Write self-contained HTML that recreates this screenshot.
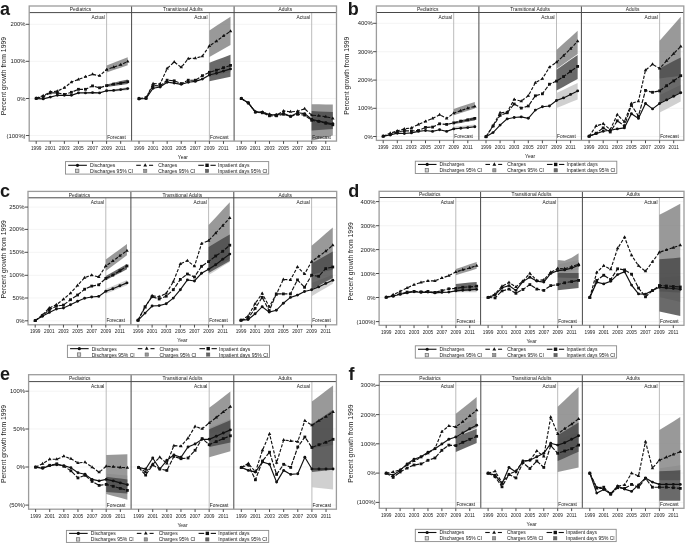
<!DOCTYPE html>
<html><head><meta charset="utf-8"><style>
html,body{margin:0;padding:0;background:#fff;width:685px;height:543px;overflow:hidden}
svg{display:block}
text{font-family:"Liberation Sans", Arial, sans-serif;fill:#1a1a1a}
</style></head><body>
<svg width="685" height="543" viewBox="0 0 685 543">
<rect width="685" height="543" fill="#fff"/>
<line x1="29.20" y1="24.30" x2="131.60" y2="24.30" stroke="#ececec" stroke-width="0.6"/>
<line x1="29.20" y1="61.30" x2="131.60" y2="61.30" stroke="#ececec" stroke-width="0.6"/>
<line x1="29.20" y1="98.50" x2="131.60" y2="98.50" stroke="#ececec" stroke-width="0.6"/>
<line x1="29.20" y1="135.50" x2="131.60" y2="135.50" stroke="#ececec" stroke-width="0.6"/>
<line x1="131.60" y1="24.30" x2="234.10" y2="24.30" stroke="#ececec" stroke-width="0.6"/>
<line x1="131.60" y1="61.30" x2="234.10" y2="61.30" stroke="#ececec" stroke-width="0.6"/>
<line x1="131.60" y1="98.50" x2="234.10" y2="98.50" stroke="#ececec" stroke-width="0.6"/>
<line x1="131.60" y1="135.50" x2="234.10" y2="135.50" stroke="#ececec" stroke-width="0.6"/>
<line x1="234.10" y1="24.30" x2="336.50" y2="24.30" stroke="#ececec" stroke-width="0.6"/>
<line x1="234.10" y1="61.30" x2="336.50" y2="61.30" stroke="#ececec" stroke-width="0.6"/>
<line x1="234.10" y1="98.50" x2="336.50" y2="98.50" stroke="#ececec" stroke-width="0.6"/>
<line x1="234.10" y1="135.50" x2="336.50" y2="135.50" stroke="#ececec" stroke-width="0.6"/>
<line x1="106.60" y1="12.60" x2="106.60" y2="141.10" stroke="#b4b4b4" stroke-width="0.9"/>
<line x1="209.40" y1="12.60" x2="209.40" y2="141.10" stroke="#b4b4b4" stroke-width="0.9"/>
<line x1="311.70" y1="12.60" x2="311.70" y2="141.10" stroke="#b4b4b4" stroke-width="0.9"/>
<polygon points="106.60,89.80 113.64,89.20 120.68,88.20 127.72,87.00 127.72,90.20 120.68,91.00 113.64,91.60 106.60,91.80" fill="#c4c4c4" fill-opacity="0.8"/>
<polygon points="106.60,65.50 113.64,62.73 120.68,59.97 127.72,57.20 127.72,65.30 120.68,67.70 113.64,70.10 106.60,72.50" fill="#808080" fill-opacity="0.8"/>
<polygon points="106.60,84.40 113.64,82.70 120.68,81.00 127.72,79.40 127.72,83.90 120.68,84.90 113.64,85.90 106.60,86.90" fill="#454545" fill-opacity="0.8"/>
<polyline points="36.20,98.60 43.24,98.90 50.28,97.10 57.32,95.30 64.36,95.30 71.40,95.30 78.44,92.90 85.48,92.90 92.52,92.60 99.56,92.90 106.60,90.80 113.64,90.40 120.68,89.60 127.72,88.60" fill="none" stroke="#111" stroke-width="1.15"/>
<circle cx="36.20" cy="98.60" r="1.45" fill="#111"/>
<circle cx="43.24" cy="98.90" r="1.45" fill="#111"/>
<circle cx="50.28" cy="97.10" r="1.45" fill="#111"/>
<circle cx="57.32" cy="95.30" r="1.45" fill="#111"/>
<circle cx="64.36" cy="95.30" r="1.45" fill="#111"/>
<circle cx="71.40" cy="95.30" r="1.45" fill="#111"/>
<circle cx="78.44" cy="92.90" r="1.45" fill="#111"/>
<circle cx="85.48" cy="92.90" r="1.45" fill="#111"/>
<circle cx="92.52" cy="92.60" r="1.45" fill="#111"/>
<circle cx="99.56" cy="92.90" r="1.45" fill="#111"/>
<circle cx="106.60" cy="90.80" r="1.45" fill="#111"/>
<circle cx="113.64" cy="90.40" r="1.45" fill="#111"/>
<circle cx="120.68" cy="89.60" r="1.45" fill="#111"/>
<circle cx="127.72" cy="88.60" r="1.45" fill="#111"/>
<polyline points="36.20,98.30 43.24,95.60 50.28,91.90 57.32,91.10 64.36,87.80 71.40,82.10 78.44,79.40 85.48,76.80 92.52,74.30 99.56,75.80 106.60,69.60 113.64,67.10 120.68,64.80 127.72,61.40" fill="none" stroke="#111" stroke-width="1.15" stroke-dasharray="3.2,1.6"/>
<polygon points="36.20,96.35 37.95,99.35 34.45,99.35" fill="#111"/>
<polygon points="43.24,93.65 44.99,96.65 41.49,96.65" fill="#111"/>
<polygon points="50.28,89.95 52.03,92.95 48.53,92.95" fill="#111"/>
<polygon points="57.32,89.15 59.07,92.15 55.57,92.15" fill="#111"/>
<polygon points="64.36,85.85 66.11,88.85 62.61,88.85" fill="#111"/>
<polygon points="71.40,80.15 73.15,83.15 69.65,83.15" fill="#111"/>
<polygon points="78.44,77.45 80.19,80.45 76.69,80.45" fill="#111"/>
<polygon points="85.48,74.85 87.23,77.85 83.73,77.85" fill="#111"/>
<polygon points="92.52,72.35 94.27,75.35 90.77,75.35" fill="#111"/>
<polygon points="99.56,73.85 101.31,76.85 97.81,76.85" fill="#111"/>
<polygon points="106.60,67.65 108.35,70.65 104.85,70.65" fill="#111"/>
<polygon points="113.64,65.15 115.39,68.15 111.89,68.15" fill="#111"/>
<polygon points="120.68,62.85 122.43,65.85 118.93,65.85" fill="#111"/>
<polygon points="127.72,59.45 129.47,62.45 125.97,62.45" fill="#111"/>
<polyline points="36.20,98.30 43.24,96.80 50.28,92.90 57.32,92.90 64.36,94.40 71.40,92.30 78.44,89.30 85.48,89.30 92.52,85.90 99.56,87.80 106.60,85.60 113.64,84.10 120.68,83.20 127.72,81.70" fill="none" stroke="#111" stroke-width="1.15" stroke-dasharray="4.2,1.4"/>
<rect x="34.80" y="96.90" width="2.8" height="2.8" fill="#111"/>
<rect x="41.84" y="95.40" width="2.8" height="2.8" fill="#111"/>
<rect x="48.88" y="91.50" width="2.8" height="2.8" fill="#111"/>
<rect x="55.92" y="91.50" width="2.8" height="2.8" fill="#111"/>
<rect x="62.96" y="93.00" width="2.8" height="2.8" fill="#111"/>
<rect x="70.00" y="90.90" width="2.8" height="2.8" fill="#111"/>
<rect x="77.04" y="87.90" width="2.8" height="2.8" fill="#111"/>
<rect x="84.08" y="87.90" width="2.8" height="2.8" fill="#111"/>
<rect x="91.12" y="84.50" width="2.8" height="2.8" fill="#111"/>
<rect x="98.16" y="86.40" width="2.8" height="2.8" fill="#111"/>
<rect x="105.20" y="84.20" width="2.8" height="2.8" fill="#111"/>
<rect x="112.24" y="82.70" width="2.8" height="2.8" fill="#111"/>
<rect x="119.28" y="81.80" width="2.8" height="2.8" fill="#111"/>
<rect x="126.32" y="80.30" width="2.8" height="2.8" fill="#111"/>
<polygon points="209.40,73.60 216.44,71.10 223.48,68.50 230.52,66.00 230.52,72.00 223.48,73.60 216.44,75.20 209.40,76.70" fill="#c4c4c4" fill-opacity="0.8"/>
<polygon points="209.40,30.40 216.44,25.83 223.48,21.27 230.52,16.70 230.52,45.10 223.48,49.03 216.44,52.97 209.40,56.90" fill="#808080" fill-opacity="0.8"/>
<polygon points="209.40,62.80 216.44,60.10 223.48,57.40 230.52,54.70 230.52,76.80 223.48,78.27 216.44,79.73 209.40,81.20" fill="#454545" fill-opacity="0.8"/>
<polyline points="139.00,99.00 146.04,98.50 153.08,88.20 160.12,87.00 167.16,82.20 174.20,83.10 181.24,84.30 188.28,82.20 195.32,81.40 202.36,79.10 209.40,75.00 216.44,73.30 223.48,71.10 230.52,68.90" fill="none" stroke="#111" stroke-width="1.15"/>
<circle cx="139.00" cy="99.00" r="1.45" fill="#111"/>
<circle cx="146.04" cy="98.50" r="1.45" fill="#111"/>
<circle cx="153.08" cy="88.20" r="1.45" fill="#111"/>
<circle cx="160.12" cy="87.00" r="1.45" fill="#111"/>
<circle cx="167.16" cy="82.20" r="1.45" fill="#111"/>
<circle cx="174.20" cy="83.10" r="1.45" fill="#111"/>
<circle cx="181.24" cy="84.30" r="1.45" fill="#111"/>
<circle cx="188.28" cy="82.20" r="1.45" fill="#111"/>
<circle cx="195.32" cy="81.40" r="1.45" fill="#111"/>
<circle cx="202.36" cy="79.10" r="1.45" fill="#111"/>
<circle cx="209.40" cy="75.00" r="1.45" fill="#111"/>
<circle cx="216.44" cy="73.30" r="1.45" fill="#111"/>
<circle cx="223.48" cy="71.10" r="1.45" fill="#111"/>
<circle cx="230.52" cy="68.90" r="1.45" fill="#111"/>
<polyline points="139.00,98.50 146.04,98.50 153.08,83.60 160.12,83.90 167.16,68.50 174.20,62.00 181.24,67.30 188.28,58.60 195.32,58.20 202.36,56.20 209.40,45.90 216.44,41.10 223.48,36.00 230.52,31.20" fill="none" stroke="#111" stroke-width="1.15" stroke-dasharray="3.2,1.6"/>
<polygon points="139.00,96.55 140.75,99.55 137.25,99.55" fill="#111"/>
<polygon points="146.04,96.55 147.79,99.55 144.29,99.55" fill="#111"/>
<polygon points="153.08,81.65 154.83,84.65 151.33,84.65" fill="#111"/>
<polygon points="160.12,81.95 161.87,84.95 158.37,84.95" fill="#111"/>
<polygon points="167.16,66.55 168.91,69.55 165.41,69.55" fill="#111"/>
<polygon points="174.20,60.05 175.95,63.05 172.45,63.05" fill="#111"/>
<polygon points="181.24,65.35 182.99,68.35 179.49,68.35" fill="#111"/>
<polygon points="188.28,56.65 190.03,59.65 186.53,59.65" fill="#111"/>
<polygon points="195.32,56.25 197.07,59.25 193.57,59.25" fill="#111"/>
<polygon points="202.36,54.25 204.11,57.25 200.61,57.25" fill="#111"/>
<polygon points="209.40,43.95 211.15,46.95 207.65,46.95" fill="#111"/>
<polygon points="216.44,39.15 218.19,42.15 214.69,42.15" fill="#111"/>
<polygon points="223.48,34.05 225.23,37.05 221.73,37.05" fill="#111"/>
<polygon points="230.52,29.25 232.27,32.25 228.77,32.25" fill="#111"/>
<polyline points="139.00,98.50 146.04,97.60 153.08,85.60 160.12,86.00 167.16,80.20 174.20,80.80 181.24,83.60 188.28,80.20 195.32,80.20 202.36,75.70 209.40,72.30 216.44,70.20 223.48,67.70 230.52,65.40" fill="none" stroke="#111" stroke-width="1.15" stroke-dasharray="4.2,1.4"/>
<rect x="137.60" y="97.10" width="2.8" height="2.8" fill="#111"/>
<rect x="144.64" y="96.20" width="2.8" height="2.8" fill="#111"/>
<rect x="151.68" y="84.20" width="2.8" height="2.8" fill="#111"/>
<rect x="158.72" y="84.60" width="2.8" height="2.8" fill="#111"/>
<rect x="165.76" y="78.80" width="2.8" height="2.8" fill="#111"/>
<rect x="172.80" y="79.40" width="2.8" height="2.8" fill="#111"/>
<rect x="179.84" y="82.20" width="2.8" height="2.8" fill="#111"/>
<rect x="186.88" y="78.80" width="2.8" height="2.8" fill="#111"/>
<rect x="193.92" y="78.80" width="2.8" height="2.8" fill="#111"/>
<rect x="200.96" y="74.30" width="2.8" height="2.8" fill="#111"/>
<rect x="208.00" y="70.90" width="2.8" height="2.8" fill="#111"/>
<rect x="215.04" y="68.80" width="2.8" height="2.8" fill="#111"/>
<rect x="222.08" y="66.30" width="2.8" height="2.8" fill="#111"/>
<rect x="229.12" y="64.00" width="2.8" height="2.8" fill="#111"/>
<polygon points="311.70,116.00 318.74,117.00 325.78,118.00 332.82,119.00 332.82,128.00 325.78,127.00 318.74,126.00 311.70,125.00" fill="#c4c4c4" fill-opacity="0.8"/>
<polygon points="311.70,104.20 318.74,104.30 325.78,104.40 332.82,104.50 332.82,135.50 325.78,137.27 318.74,139.03 311.70,140.80" fill="#808080" fill-opacity="0.8"/>
<polygon points="311.70,111.10 318.74,111.40 325.78,111.70 332.82,112.00 332.82,128.90 325.78,129.47 318.74,130.03 311.70,130.60" fill="#454545" fill-opacity="0.8"/>
<polyline points="241.30,98.50 248.34,103.00 255.38,112.10 262.42,112.10 269.46,114.80 276.50,114.80 283.54,113.30 290.58,116.30 297.62,112.80 304.66,113.60 311.70,119.30 318.74,121.10 325.78,122.60 332.82,123.80" fill="none" stroke="#111" stroke-width="1.15"/>
<circle cx="241.30" cy="98.50" r="1.45" fill="#111"/>
<circle cx="248.34" cy="103.00" r="1.45" fill="#111"/>
<circle cx="255.38" cy="112.10" r="1.45" fill="#111"/>
<circle cx="262.42" cy="112.10" r="1.45" fill="#111"/>
<circle cx="269.46" cy="114.80" r="1.45" fill="#111"/>
<circle cx="276.50" cy="114.80" r="1.45" fill="#111"/>
<circle cx="283.54" cy="113.30" r="1.45" fill="#111"/>
<circle cx="290.58" cy="116.30" r="1.45" fill="#111"/>
<circle cx="297.62" cy="112.80" r="1.45" fill="#111"/>
<circle cx="304.66" cy="113.60" r="1.45" fill="#111"/>
<circle cx="311.70" cy="119.30" r="1.45" fill="#111"/>
<circle cx="318.74" cy="121.10" r="1.45" fill="#111"/>
<circle cx="325.78" cy="122.60" r="1.45" fill="#111"/>
<circle cx="332.82" cy="123.80" r="1.45" fill="#111"/>
<polyline points="241.30,98.50 248.34,103.00 255.38,111.80 262.42,112.10 269.46,114.30 276.50,115.10 283.54,110.90 290.58,111.80 297.62,111.30 304.66,108.80 311.70,115.10 318.74,115.80 325.78,116.60 332.82,118.40" fill="none" stroke="#111" stroke-width="1.15" stroke-dasharray="3.2,1.6"/>
<polygon points="241.30,96.55 243.05,99.55 239.55,99.55" fill="#111"/>
<polygon points="248.34,101.05 250.09,104.05 246.59,104.05" fill="#111"/>
<polygon points="255.38,109.85 257.13,112.85 253.63,112.85" fill="#111"/>
<polygon points="262.42,110.15 264.17,113.15 260.67,113.15" fill="#111"/>
<polygon points="269.46,112.35 271.21,115.35 267.71,115.35" fill="#111"/>
<polygon points="276.50,113.15 278.25,116.15 274.75,116.15" fill="#111"/>
<polygon points="283.54,108.95 285.29,111.95 281.79,111.95" fill="#111"/>
<polygon points="290.58,109.85 292.33,112.85 288.83,112.85" fill="#111"/>
<polygon points="297.62,109.35 299.37,112.35 295.87,112.35" fill="#111"/>
<polygon points="304.66,106.85 306.41,109.85 302.91,109.85" fill="#111"/>
<polygon points="311.70,113.15 313.45,116.15 309.95,116.15" fill="#111"/>
<polygon points="318.74,113.85 320.49,116.85 316.99,116.85" fill="#111"/>
<polygon points="325.78,114.65 327.53,117.65 324.03,117.65" fill="#111"/>
<polygon points="332.82,116.45 334.57,119.45 331.07,119.45" fill="#111"/>
<polyline points="241.30,98.50 248.34,103.00 255.38,112.10 262.42,112.80 269.46,115.80 276.50,115.80 283.54,114.30 290.58,116.30 297.62,114.30 304.66,115.10 311.70,120.30 318.74,121.40 325.78,123.30 332.82,124.80" fill="none" stroke="#111" stroke-width="1.15" stroke-dasharray="4.2,1.4"/>
<rect x="239.90" y="97.10" width="2.8" height="2.8" fill="#111"/>
<rect x="246.94" y="101.60" width="2.8" height="2.8" fill="#111"/>
<rect x="253.98" y="110.70" width="2.8" height="2.8" fill="#111"/>
<rect x="261.02" y="111.40" width="2.8" height="2.8" fill="#111"/>
<rect x="268.06" y="114.40" width="2.8" height="2.8" fill="#111"/>
<rect x="275.10" y="114.40" width="2.8" height="2.8" fill="#111"/>
<rect x="282.14" y="112.90" width="2.8" height="2.8" fill="#111"/>
<rect x="289.18" y="114.90" width="2.8" height="2.8" fill="#111"/>
<rect x="296.22" y="112.90" width="2.8" height="2.8" fill="#111"/>
<rect x="303.26" y="113.70" width="2.8" height="2.8" fill="#111"/>
<rect x="310.30" y="118.90" width="2.8" height="2.8" fill="#111"/>
<rect x="317.34" y="120.00" width="2.8" height="2.8" fill="#111"/>
<rect x="324.38" y="121.90" width="2.8" height="2.8" fill="#111"/>
<rect x="331.42" y="123.40" width="2.8" height="2.8" fill="#111"/>
<line x1="131.60" y1="6.00" x2="131.60" y2="141.10" stroke="#484848" stroke-width="1"/>
<line x1="234.10" y1="6.00" x2="234.10" y2="141.10" stroke="#484848" stroke-width="1"/>
<line x1="29.20" y1="12.60" x2="336.50" y2="12.60" stroke="#484848" stroke-width="1"/>
<rect x="29.20" y="6.00" width="307.30" height="135.10" fill="none" stroke="#9c9c9c" stroke-width="1.3"/>
<text x="80.40" y="11.30" font-size="4.9" text-anchor="middle">Pediatrics</text>
<text x="104.80" y="18.70" font-size="4.8" text-anchor="end">Actual</text>
<text x="107.20" y="138.50" font-size="4.8">Forecast</text>
<text x="182.85" y="11.30" font-size="4.9" text-anchor="middle">Transitional Adults</text>
<text x="207.60" y="18.70" font-size="4.8" text-anchor="end">Actual</text>
<text x="210.00" y="138.50" font-size="4.8">Forecast</text>
<text x="285.30" y="11.30" font-size="4.9" text-anchor="middle">Adults</text>
<text x="309.90" y="18.70" font-size="4.8" text-anchor="end">Actual</text>
<text x="312.30" y="138.50" font-size="4.8">Forecast</text>
<line x1="25.90" y1="24.30" x2="29.20" y2="24.30" stroke="#3a3a3a" stroke-width="0.9"/>
<text x="25.60" y="26.35" font-size="5.9" text-anchor="end">200%</text>
<line x1="25.90" y1="61.30" x2="29.20" y2="61.30" stroke="#3a3a3a" stroke-width="0.9"/>
<text x="25.60" y="63.35" font-size="5.9" text-anchor="end">100%</text>
<line x1="25.90" y1="98.50" x2="29.20" y2="98.50" stroke="#3a3a3a" stroke-width="0.9"/>
<text x="25.60" y="100.55" font-size="5.9" text-anchor="end">0%</text>
<line x1="25.90" y1="135.50" x2="29.20" y2="135.50" stroke="#3a3a3a" stroke-width="0.9"/>
<text x="25.60" y="137.55" font-size="5.9" text-anchor="end">(100%)</text>
<line x1="36.20" y1="141.10" x2="36.20" y2="143.90" stroke="#3a3a3a" stroke-width="0.9"/>
<text x="36.20" y="149.65" font-size="4.75" text-anchor="middle">1999</text>
<line x1="50.28" y1="141.10" x2="50.28" y2="143.90" stroke="#3a3a3a" stroke-width="0.9"/>
<text x="50.28" y="149.65" font-size="4.75" text-anchor="middle">2001</text>
<line x1="64.36" y1="141.10" x2="64.36" y2="143.90" stroke="#3a3a3a" stroke-width="0.9"/>
<text x="64.36" y="149.65" font-size="4.75" text-anchor="middle">2003</text>
<line x1="78.44" y1="141.10" x2="78.44" y2="143.90" stroke="#3a3a3a" stroke-width="0.9"/>
<text x="78.44" y="149.65" font-size="4.75" text-anchor="middle">2005</text>
<line x1="92.52" y1="141.10" x2="92.52" y2="143.90" stroke="#3a3a3a" stroke-width="0.9"/>
<text x="92.52" y="149.65" font-size="4.75" text-anchor="middle">2007</text>
<line x1="106.60" y1="141.10" x2="106.60" y2="143.90" stroke="#3a3a3a" stroke-width="0.9"/>
<text x="106.60" y="149.65" font-size="4.75" text-anchor="middle">2009</text>
<line x1="120.68" y1="141.10" x2="120.68" y2="143.90" stroke="#3a3a3a" stroke-width="0.9"/>
<text x="120.68" y="149.65" font-size="4.75" text-anchor="middle">2011</text>
<line x1="139.00" y1="141.10" x2="139.00" y2="143.90" stroke="#3a3a3a" stroke-width="0.9"/>
<text x="139.00" y="149.65" font-size="4.75" text-anchor="middle">1999</text>
<line x1="153.08" y1="141.10" x2="153.08" y2="143.90" stroke="#3a3a3a" stroke-width="0.9"/>
<text x="153.08" y="149.65" font-size="4.75" text-anchor="middle">2001</text>
<line x1="167.16" y1="141.10" x2="167.16" y2="143.90" stroke="#3a3a3a" stroke-width="0.9"/>
<text x="167.16" y="149.65" font-size="4.75" text-anchor="middle">2003</text>
<line x1="181.24" y1="141.10" x2="181.24" y2="143.90" stroke="#3a3a3a" stroke-width="0.9"/>
<text x="181.24" y="149.65" font-size="4.75" text-anchor="middle">2005</text>
<line x1="195.32" y1="141.10" x2="195.32" y2="143.90" stroke="#3a3a3a" stroke-width="0.9"/>
<text x="195.32" y="149.65" font-size="4.75" text-anchor="middle">2007</text>
<line x1="209.40" y1="141.10" x2="209.40" y2="143.90" stroke="#3a3a3a" stroke-width="0.9"/>
<text x="209.40" y="149.65" font-size="4.75" text-anchor="middle">2009</text>
<line x1="223.48" y1="141.10" x2="223.48" y2="143.90" stroke="#3a3a3a" stroke-width="0.9"/>
<text x="223.48" y="149.65" font-size="4.75" text-anchor="middle">2011</text>
<line x1="241.30" y1="141.10" x2="241.30" y2="143.90" stroke="#3a3a3a" stroke-width="0.9"/>
<text x="241.30" y="149.65" font-size="4.75" text-anchor="middle">1999</text>
<line x1="255.38" y1="141.10" x2="255.38" y2="143.90" stroke="#3a3a3a" stroke-width="0.9"/>
<text x="255.38" y="149.65" font-size="4.75" text-anchor="middle">2001</text>
<line x1="269.46" y1="141.10" x2="269.46" y2="143.90" stroke="#3a3a3a" stroke-width="0.9"/>
<text x="269.46" y="149.65" font-size="4.75" text-anchor="middle">2003</text>
<line x1="283.54" y1="141.10" x2="283.54" y2="143.90" stroke="#3a3a3a" stroke-width="0.9"/>
<text x="283.54" y="149.65" font-size="4.75" text-anchor="middle">2005</text>
<line x1="297.62" y1="141.10" x2="297.62" y2="143.90" stroke="#3a3a3a" stroke-width="0.9"/>
<text x="297.62" y="149.65" font-size="4.75" text-anchor="middle">2007</text>
<line x1="311.70" y1="141.10" x2="311.70" y2="143.90" stroke="#3a3a3a" stroke-width="0.9"/>
<text x="311.70" y="149.65" font-size="4.75" text-anchor="middle">2009</text>
<line x1="325.78" y1="141.10" x2="325.78" y2="143.90" stroke="#3a3a3a" stroke-width="0.9"/>
<text x="325.78" y="149.65" font-size="4.75" text-anchor="middle">2011</text>
<text x="182.85" y="158.50" font-size="5.0" text-anchor="middle">Year</text>
<text transform="translate(5.90,76.10) rotate(-90)" font-size="6.8" text-anchor="middle">Percent growth from 1999</text>
<text x="0.10" y="14.60" font-size="18" font-weight="bold">a</text>
<rect x="65.50" y="161.60" width="203.20" height="12.50" fill="none" stroke="#8a8a8a" stroke-width="0.9"/>
<line x1="68.20" y1="165.30" x2="86.88" y2="165.30" stroke="#111" stroke-width="1.1"/>
<circle cx="77.49" cy="165.30" r="1.6" fill="#111"/>
<rect x="75.49" y="169.15" width="3.4" height="3.4" fill="#d0d0d0" stroke="#6a6a6a" stroke-width="0.7"/>
<text x="89.98" y="167.15" font-size="5.05">Discharges</text>
<text x="89.98" y="172.85" font-size="5.05">Discharges 95% CI</text>
<line x1="136.23" y1="165.30" x2="140.83" y2="165.30" stroke="#111" stroke-width="1.1"/>
<line x1="149.02" y1="165.30" x2="153.11" y2="165.30" stroke="#111" stroke-width="1.1"/>
<polygon points="145.22,163.20 147.12,166.50 143.32,166.50" fill="#111"/>
<rect x="143.62" y="169.25" width="3.2" height="3.2" fill="#999999" stroke="#6a6a6a" stroke-width="0.6"/>
<text x="158.21" y="167.15" font-size="5.05">Charges</text>
<text x="158.21" y="172.85" font-size="5.05">Charges 95% CI</text>
<line x1="198.27" y1="165.30" x2="203.86" y2="165.30" stroke="#111" stroke-width="1.1"/>
<line x1="210.46" y1="165.30" x2="215.75" y2="165.30" stroke="#111" stroke-width="1.1"/>
<rect x="205.36" y="163.60" width="3.4" height="3.4" fill="#111"/>
<rect x="205.46" y="169.25" width="3.2" height="3.2" fill="#666666" stroke="#555" stroke-width="0.6"/>
<text x="218.05" y="167.15" font-size="5.05">Inpatient days</text>
<text x="218.05" y="172.85" font-size="5.05">Inpatient days 95% CI</text>
<line x1="376.40" y1="23.30" x2="478.90" y2="23.30" stroke="#ececec" stroke-width="0.6"/>
<line x1="376.40" y1="51.70" x2="478.90" y2="51.70" stroke="#ececec" stroke-width="0.6"/>
<line x1="376.40" y1="80.10" x2="478.90" y2="80.10" stroke="#ececec" stroke-width="0.6"/>
<line x1="376.40" y1="108.30" x2="478.90" y2="108.30" stroke="#ececec" stroke-width="0.6"/>
<line x1="376.40" y1="136.50" x2="478.90" y2="136.50" stroke="#ececec" stroke-width="0.6"/>
<line x1="478.90" y1="23.30" x2="581.40" y2="23.30" stroke="#ececec" stroke-width="0.6"/>
<line x1="478.90" y1="51.70" x2="581.40" y2="51.70" stroke="#ececec" stroke-width="0.6"/>
<line x1="478.90" y1="80.10" x2="581.40" y2="80.10" stroke="#ececec" stroke-width="0.6"/>
<line x1="478.90" y1="108.30" x2="581.40" y2="108.30" stroke="#ececec" stroke-width="0.6"/>
<line x1="478.90" y1="136.50" x2="581.40" y2="136.50" stroke="#ececec" stroke-width="0.6"/>
<line x1="581.40" y1="23.30" x2="683.80" y2="23.30" stroke="#ececec" stroke-width="0.6"/>
<line x1="581.40" y1="51.70" x2="683.80" y2="51.70" stroke="#ececec" stroke-width="0.6"/>
<line x1="581.40" y1="80.10" x2="683.80" y2="80.10" stroke="#ececec" stroke-width="0.6"/>
<line x1="581.40" y1="108.30" x2="683.80" y2="108.30" stroke="#ececec" stroke-width="0.6"/>
<line x1="581.40" y1="136.50" x2="683.80" y2="136.50" stroke="#ececec" stroke-width="0.6"/>
<line x1="453.70" y1="12.50" x2="453.70" y2="140.40" stroke="#b4b4b4" stroke-width="0.9"/>
<line x1="556.50" y1="12.50" x2="556.50" y2="140.40" stroke="#b4b4b4" stroke-width="0.9"/>
<line x1="659.60" y1="12.50" x2="659.60" y2="140.40" stroke="#b4b4b4" stroke-width="0.9"/>
<polygon points="453.70,126.80 460.75,126.03 467.80,125.27 474.85,124.50 474.85,127.80 467.80,128.10 460.75,128.40 453.70,128.70" fill="#c4c4c4" fill-opacity="0.8"/>
<polygon points="453.70,108.90 460.75,106.60 467.80,104.30 474.85,102.00 474.85,108.40 467.80,110.70 460.75,113.00 453.70,115.30" fill="#808080" fill-opacity="0.8"/>
<polygon points="453.70,121.90 460.75,120.20 467.80,118.60 474.85,116.90 474.85,120.40 467.80,121.60 460.75,122.90 453.70,124.10" fill="#454545" fill-opacity="0.8"/>
<polyline points="383.20,136.20 390.25,135.00 397.30,133.20 404.35,133.50 411.40,132.90 418.45,131.40 425.50,130.50 432.55,131.40 439.60,129.80 446.65,131.40 453.70,128.90 460.75,128.30 467.80,127.60 474.85,126.80" fill="none" stroke="#111" stroke-width="1.15"/>
<circle cx="383.20" cy="136.20" r="1.45" fill="#111"/>
<circle cx="390.25" cy="135.00" r="1.45" fill="#111"/>
<circle cx="397.30" cy="133.20" r="1.45" fill="#111"/>
<circle cx="404.35" cy="133.50" r="1.45" fill="#111"/>
<circle cx="411.40" cy="132.90" r="1.45" fill="#111"/>
<circle cx="418.45" cy="131.40" r="1.45" fill="#111"/>
<circle cx="425.50" cy="130.50" r="1.45" fill="#111"/>
<circle cx="432.55" cy="131.40" r="1.45" fill="#111"/>
<circle cx="439.60" cy="129.80" r="1.45" fill="#111"/>
<circle cx="446.65" cy="131.40" r="1.45" fill="#111"/>
<circle cx="453.70" cy="128.90" r="1.45" fill="#111"/>
<circle cx="460.75" cy="128.30" r="1.45" fill="#111"/>
<circle cx="467.80" cy="127.60" r="1.45" fill="#111"/>
<circle cx="474.85" cy="126.80" r="1.45" fill="#111"/>
<polyline points="383.20,136.20 390.25,133.20 397.30,130.90 404.35,128.90 411.40,127.90 418.45,124.40 425.50,121.40 432.55,118.40 439.60,114.80 446.65,118.40 453.70,113.30 460.75,110.60 467.80,108.30 474.85,106.40" fill="none" stroke="#111" stroke-width="1.15" stroke-dasharray="3.2,1.6"/>
<polygon points="383.20,134.25 384.95,137.25 381.45,137.25" fill="#111"/>
<polygon points="390.25,131.25 392.00,134.25 388.50,134.25" fill="#111"/>
<polygon points="397.30,128.95 399.05,131.95 395.55,131.95" fill="#111"/>
<polygon points="404.35,126.95 406.10,129.95 402.60,129.95" fill="#111"/>
<polygon points="411.40,125.95 413.15,128.95 409.65,128.95" fill="#111"/>
<polygon points="418.45,122.45 420.20,125.45 416.70,125.45" fill="#111"/>
<polygon points="425.50,119.45 427.25,122.45 423.75,122.45" fill="#111"/>
<polygon points="432.55,116.45 434.30,119.45 430.80,119.45" fill="#111"/>
<polygon points="439.60,112.85 441.35,115.85 437.85,115.85" fill="#111"/>
<polygon points="446.65,116.45 448.40,119.45 444.90,119.45" fill="#111"/>
<polygon points="453.70,111.35 455.45,114.35 451.95,114.35" fill="#111"/>
<polygon points="460.75,108.65 462.50,111.65 459.00,111.65" fill="#111"/>
<polygon points="467.80,106.35 469.55,109.35 466.05,109.35" fill="#111"/>
<polygon points="474.85,104.45 476.60,107.45 473.10,107.45" fill="#111"/>
<polyline points="383.20,136.20 390.25,134.40 397.30,131.70 404.35,130.90 411.40,130.90 418.45,130.50 425.50,127.40 432.55,127.10 439.60,123.80 446.65,124.40 453.70,122.90 460.75,121.10 467.80,119.90 474.85,118.40" fill="none" stroke="#111" stroke-width="1.15" stroke-dasharray="4.2,1.4"/>
<rect x="381.80" y="134.80" width="2.8" height="2.8" fill="#111"/>
<rect x="388.85" y="133.00" width="2.8" height="2.8" fill="#111"/>
<rect x="395.90" y="130.30" width="2.8" height="2.8" fill="#111"/>
<rect x="402.95" y="129.50" width="2.8" height="2.8" fill="#111"/>
<rect x="410.00" y="129.50" width="2.8" height="2.8" fill="#111"/>
<rect x="417.05" y="129.10" width="2.8" height="2.8" fill="#111"/>
<rect x="424.10" y="126.00" width="2.8" height="2.8" fill="#111"/>
<rect x="431.15" y="125.70" width="2.8" height="2.8" fill="#111"/>
<rect x="438.20" y="122.40" width="2.8" height="2.8" fill="#111"/>
<rect x="445.25" y="123.00" width="2.8" height="2.8" fill="#111"/>
<rect x="452.30" y="121.50" width="2.8" height="2.8" fill="#111"/>
<rect x="459.35" y="119.70" width="2.8" height="2.8" fill="#111"/>
<rect x="466.40" y="118.50" width="2.8" height="2.8" fill="#111"/>
<rect x="473.45" y="117.00" width="2.8" height="2.8" fill="#111"/>
<polygon points="556.50,93.00 563.55,89.67 570.60,86.33 577.65,83.00 577.65,99.60 570.60,102.37 563.55,105.13 556.50,107.90" fill="#c4c4c4" fill-opacity="0.8"/>
<polygon points="556.50,49.90 563.55,43.53 570.60,37.17 577.65,30.80 577.65,54.00 570.60,59.00 563.55,64.00 556.50,69.00" fill="#808080" fill-opacity="0.8"/>
<polygon points="556.50,69.80 563.55,64.83 570.60,59.87 577.65,54.90 577.65,78.90 570.60,82.77 563.55,86.63 556.50,90.50" fill="#454545" fill-opacity="0.8"/>
<polyline points="486.00,136.70 493.05,132.60 500.10,125.10 507.15,118.90 514.20,117.50 521.25,116.90 528.30,118.30 535.35,110.10 542.40,106.70 549.45,106.00 556.50,100.50 563.55,97.90 570.60,94.40 577.65,90.90" fill="none" stroke="#111" stroke-width="1.15"/>
<circle cx="486.00" cy="136.70" r="1.45" fill="#111"/>
<circle cx="493.05" cy="132.60" r="1.45" fill="#111"/>
<circle cx="500.10" cy="125.10" r="1.45" fill="#111"/>
<circle cx="507.15" cy="118.90" r="1.45" fill="#111"/>
<circle cx="514.20" cy="117.50" r="1.45" fill="#111"/>
<circle cx="521.25" cy="116.90" r="1.45" fill="#111"/>
<circle cx="528.30" cy="118.30" r="1.45" fill="#111"/>
<circle cx="535.35" cy="110.10" r="1.45" fill="#111"/>
<circle cx="542.40" cy="106.70" r="1.45" fill="#111"/>
<circle cx="549.45" cy="106.00" r="1.45" fill="#111"/>
<circle cx="556.50" cy="100.50" r="1.45" fill="#111"/>
<circle cx="563.55" cy="97.90" r="1.45" fill="#111"/>
<circle cx="570.60" cy="94.40" r="1.45" fill="#111"/>
<circle cx="577.65" cy="90.90" r="1.45" fill="#111"/>
<polyline points="486.00,136.70 493.05,125.70 500.10,112.80 507.15,112.20 514.20,99.50 521.25,101.10 528.30,95.80 535.35,82.70 542.40,78.70 549.45,67.20 556.50,62.30 563.55,55.60 570.60,48.80 577.65,41.20" fill="none" stroke="#111" stroke-width="1.15" stroke-dasharray="3.2,1.6"/>
<polygon points="486.00,134.75 487.75,137.75 484.25,137.75" fill="#111"/>
<polygon points="493.05,123.75 494.80,126.75 491.30,126.75" fill="#111"/>
<polygon points="500.10,110.85 501.85,113.85 498.35,113.85" fill="#111"/>
<polygon points="507.15,110.25 508.90,113.25 505.40,113.25" fill="#111"/>
<polygon points="514.20,97.55 515.95,100.55 512.45,100.55" fill="#111"/>
<polygon points="521.25,99.15 523.00,102.15 519.50,102.15" fill="#111"/>
<polygon points="528.30,93.85 530.05,96.85 526.55,96.85" fill="#111"/>
<polygon points="535.35,80.75 537.10,83.75 533.60,83.75" fill="#111"/>
<polygon points="542.40,76.75 544.15,79.75 540.65,79.75" fill="#111"/>
<polygon points="549.45,65.25 551.20,68.25 547.70,68.25" fill="#111"/>
<polygon points="556.50,60.35 558.25,63.35 554.75,63.35" fill="#111"/>
<polygon points="563.55,53.65 565.30,56.65 561.80,56.65" fill="#111"/>
<polygon points="570.60,46.85 572.35,49.85 568.85,49.85" fill="#111"/>
<polygon points="577.65,39.25 579.40,42.25 575.90,42.25" fill="#111"/>
<polyline points="486.00,136.70 493.05,126.10 500.10,115.40 507.15,112.80 514.20,104.00 521.25,108.10 528.30,106.00 535.35,95.80 542.40,93.80 549.45,84.20 556.50,81.10 563.55,76.60 570.60,71.30 577.65,66.40" fill="none" stroke="#111" stroke-width="1.15" stroke-dasharray="4.2,1.4"/>
<rect x="484.60" y="135.30" width="2.8" height="2.8" fill="#111"/>
<rect x="491.65" y="124.70" width="2.8" height="2.8" fill="#111"/>
<rect x="498.70" y="114.00" width="2.8" height="2.8" fill="#111"/>
<rect x="505.75" y="111.40" width="2.8" height="2.8" fill="#111"/>
<rect x="512.80" y="102.60" width="2.8" height="2.8" fill="#111"/>
<rect x="519.85" y="106.70" width="2.8" height="2.8" fill="#111"/>
<rect x="526.90" y="104.60" width="2.8" height="2.8" fill="#111"/>
<rect x="533.95" y="94.40" width="2.8" height="2.8" fill="#111"/>
<rect x="541.00" y="92.40" width="2.8" height="2.8" fill="#111"/>
<rect x="548.05" y="82.80" width="2.8" height="2.8" fill="#111"/>
<rect x="555.10" y="79.70" width="2.8" height="2.8" fill="#111"/>
<rect x="562.15" y="75.20" width="2.8" height="2.8" fill="#111"/>
<rect x="569.20" y="69.90" width="2.8" height="2.8" fill="#111"/>
<rect x="576.25" y="65.00" width="2.8" height="2.8" fill="#111"/>
<polygon points="659.60,95.00 666.65,91.67 673.70,88.33 680.75,85.00 680.75,101.60 673.70,105.27 666.65,108.93 659.60,112.60" fill="#c4c4c4" fill-opacity="0.8"/>
<polygon points="659.60,40.80 666.65,32.80 673.70,24.80 680.75,16.80 680.75,75.80 673.70,76.70 666.65,77.60 659.60,78.50" fill="#808080" fill-opacity="0.8"/>
<polygon points="659.60,68.40 666.65,64.73 673.70,61.07 680.75,57.40 680.75,92.30 673.70,95.87 666.65,99.43 659.60,103.00" fill="#454545" fill-opacity="0.8"/>
<polyline points="589.10,136.30 596.15,133.60 603.20,131.30 610.25,130.30 617.30,128.90 624.35,127.90 631.40,113.70 638.45,118.40 645.50,103.50 652.55,108.90 659.60,103.50 666.65,99.90 673.70,96.30 680.75,92.80" fill="none" stroke="#111" stroke-width="1.15"/>
<circle cx="589.10" cy="136.30" r="1.45" fill="#111"/>
<circle cx="596.15" cy="133.60" r="1.45" fill="#111"/>
<circle cx="603.20" cy="131.30" r="1.45" fill="#111"/>
<circle cx="610.25" cy="130.30" r="1.45" fill="#111"/>
<circle cx="617.30" cy="128.90" r="1.45" fill="#111"/>
<circle cx="624.35" cy="127.90" r="1.45" fill="#111"/>
<circle cx="631.40" cy="113.70" r="1.45" fill="#111"/>
<circle cx="638.45" cy="118.40" r="1.45" fill="#111"/>
<circle cx="645.50" cy="103.50" r="1.45" fill="#111"/>
<circle cx="652.55" cy="108.90" r="1.45" fill="#111"/>
<circle cx="659.60" cy="103.50" r="1.45" fill="#111"/>
<circle cx="666.65" cy="99.90" r="1.45" fill="#111"/>
<circle cx="673.70" cy="96.30" r="1.45" fill="#111"/>
<circle cx="680.75" cy="92.80" r="1.45" fill="#111"/>
<polyline points="589.10,136.30 596.15,126.00 603.20,123.70 610.25,129.60 617.30,114.60 624.35,121.80 631.40,103.50 638.45,101.10 645.50,70.20 652.55,64.30 659.60,68.50 666.65,60.70 673.70,53.60 680.75,46.40" fill="none" stroke="#111" stroke-width="1.15" stroke-dasharray="3.2,1.6"/>
<polygon points="589.10,134.35 590.85,137.35 587.35,137.35" fill="#111"/>
<polygon points="596.15,124.05 597.90,127.05 594.40,127.05" fill="#111"/>
<polygon points="603.20,121.75 604.95,124.75 601.45,124.75" fill="#111"/>
<polygon points="610.25,127.65 612.00,130.65 608.50,130.65" fill="#111"/>
<polygon points="617.30,112.65 619.05,115.65 615.55,115.65" fill="#111"/>
<polygon points="624.35,119.85 626.10,122.85 622.60,122.85" fill="#111"/>
<polygon points="631.40,101.55 633.15,104.55 629.65,104.55" fill="#111"/>
<polygon points="638.45,99.15 640.20,102.15 636.70,102.15" fill="#111"/>
<polygon points="645.50,68.25 647.25,71.25 643.75,71.25" fill="#111"/>
<polygon points="652.55,62.35 654.30,65.35 650.80,65.35" fill="#111"/>
<polygon points="659.60,66.55 661.35,69.55 657.85,69.55" fill="#111"/>
<polygon points="666.65,58.75 668.40,61.75 664.90,61.75" fill="#111"/>
<polygon points="673.70,51.65 675.45,54.65 671.95,54.65" fill="#111"/>
<polygon points="680.75,44.45 682.50,47.45 679.00,47.45" fill="#111"/>
<polyline points="589.10,136.30 596.15,133.20 603.20,127.90 610.25,132.00 617.30,120.80 624.35,126.00 631.40,105.10 638.45,116.10 645.50,90.40 652.55,92.30 659.60,90.90 666.65,85.70 673.70,80.90 680.75,75.70" fill="none" stroke="#111" stroke-width="1.15" stroke-dasharray="4.2,1.4"/>
<rect x="587.70" y="134.90" width="2.8" height="2.8" fill="#111"/>
<rect x="594.75" y="131.80" width="2.8" height="2.8" fill="#111"/>
<rect x="601.80" y="126.50" width="2.8" height="2.8" fill="#111"/>
<rect x="608.85" y="130.60" width="2.8" height="2.8" fill="#111"/>
<rect x="615.90" y="119.40" width="2.8" height="2.8" fill="#111"/>
<rect x="622.95" y="124.60" width="2.8" height="2.8" fill="#111"/>
<rect x="630.00" y="103.70" width="2.8" height="2.8" fill="#111"/>
<rect x="637.05" y="114.70" width="2.8" height="2.8" fill="#111"/>
<rect x="644.10" y="89.00" width="2.8" height="2.8" fill="#111"/>
<rect x="651.15" y="90.90" width="2.8" height="2.8" fill="#111"/>
<rect x="658.20" y="89.50" width="2.8" height="2.8" fill="#111"/>
<rect x="665.25" y="84.30" width="2.8" height="2.8" fill="#111"/>
<rect x="672.30" y="79.50" width="2.8" height="2.8" fill="#111"/>
<rect x="679.35" y="74.30" width="2.8" height="2.8" fill="#111"/>
<line x1="478.90" y1="6.00" x2="478.90" y2="140.40" stroke="#484848" stroke-width="1"/>
<line x1="581.40" y1="6.00" x2="581.40" y2="140.40" stroke="#484848" stroke-width="1"/>
<line x1="376.40" y1="12.50" x2="683.80" y2="12.50" stroke="#484848" stroke-width="1"/>
<rect x="376.40" y="6.00" width="307.40" height="134.40" fill="none" stroke="#9c9c9c" stroke-width="1.3"/>
<text x="427.65" y="11.20" font-size="4.9" text-anchor="middle">Pediatrics</text>
<text x="451.90" y="18.60" font-size="4.8" text-anchor="end">Actual</text>
<text x="454.30" y="137.80" font-size="4.8">Forecast</text>
<text x="530.15" y="11.20" font-size="4.9" text-anchor="middle">Transitional Adults</text>
<text x="554.70" y="18.60" font-size="4.8" text-anchor="end">Actual</text>
<text x="557.10" y="137.80" font-size="4.8">Forecast</text>
<text x="632.60" y="11.20" font-size="4.9" text-anchor="middle">Adults</text>
<text x="657.80" y="18.60" font-size="4.8" text-anchor="end">Actual</text>
<text x="660.20" y="137.80" font-size="4.8">Forecast</text>
<line x1="373.10" y1="23.30" x2="376.40" y2="23.30" stroke="#3a3a3a" stroke-width="0.9"/>
<text x="372.80" y="25.35" font-size="5.9" text-anchor="end">400%</text>
<line x1="373.10" y1="51.70" x2="376.40" y2="51.70" stroke="#3a3a3a" stroke-width="0.9"/>
<text x="372.80" y="53.75" font-size="5.9" text-anchor="end">300%</text>
<line x1="373.10" y1="80.10" x2="376.40" y2="80.10" stroke="#3a3a3a" stroke-width="0.9"/>
<text x="372.80" y="82.15" font-size="5.9" text-anchor="end">200%</text>
<line x1="373.10" y1="108.30" x2="376.40" y2="108.30" stroke="#3a3a3a" stroke-width="0.9"/>
<text x="372.80" y="110.35" font-size="5.9" text-anchor="end">100%</text>
<line x1="373.10" y1="136.50" x2="376.40" y2="136.50" stroke="#3a3a3a" stroke-width="0.9"/>
<text x="372.80" y="138.55" font-size="5.9" text-anchor="end">0%</text>
<line x1="383.20" y1="140.40" x2="383.20" y2="143.20" stroke="#3a3a3a" stroke-width="0.9"/>
<text x="383.20" y="148.95" font-size="4.75" text-anchor="middle">1999</text>
<line x1="397.30" y1="140.40" x2="397.30" y2="143.20" stroke="#3a3a3a" stroke-width="0.9"/>
<text x="397.30" y="148.95" font-size="4.75" text-anchor="middle">2001</text>
<line x1="411.40" y1="140.40" x2="411.40" y2="143.20" stroke="#3a3a3a" stroke-width="0.9"/>
<text x="411.40" y="148.95" font-size="4.75" text-anchor="middle">2003</text>
<line x1="425.50" y1="140.40" x2="425.50" y2="143.20" stroke="#3a3a3a" stroke-width="0.9"/>
<text x="425.50" y="148.95" font-size="4.75" text-anchor="middle">2005</text>
<line x1="439.60" y1="140.40" x2="439.60" y2="143.20" stroke="#3a3a3a" stroke-width="0.9"/>
<text x="439.60" y="148.95" font-size="4.75" text-anchor="middle">2007</text>
<line x1="453.70" y1="140.40" x2="453.70" y2="143.20" stroke="#3a3a3a" stroke-width="0.9"/>
<text x="453.70" y="148.95" font-size="4.75" text-anchor="middle">2009</text>
<line x1="467.80" y1="140.40" x2="467.80" y2="143.20" stroke="#3a3a3a" stroke-width="0.9"/>
<text x="467.80" y="148.95" font-size="4.75" text-anchor="middle">2011</text>
<line x1="486.00" y1="140.40" x2="486.00" y2="143.20" stroke="#3a3a3a" stroke-width="0.9"/>
<text x="486.00" y="148.95" font-size="4.75" text-anchor="middle">1999</text>
<line x1="500.10" y1="140.40" x2="500.10" y2="143.20" stroke="#3a3a3a" stroke-width="0.9"/>
<text x="500.10" y="148.95" font-size="4.75" text-anchor="middle">2001</text>
<line x1="514.20" y1="140.40" x2="514.20" y2="143.20" stroke="#3a3a3a" stroke-width="0.9"/>
<text x="514.20" y="148.95" font-size="4.75" text-anchor="middle">2003</text>
<line x1="528.30" y1="140.40" x2="528.30" y2="143.20" stroke="#3a3a3a" stroke-width="0.9"/>
<text x="528.30" y="148.95" font-size="4.75" text-anchor="middle">2005</text>
<line x1="542.40" y1="140.40" x2="542.40" y2="143.20" stroke="#3a3a3a" stroke-width="0.9"/>
<text x="542.40" y="148.95" font-size="4.75" text-anchor="middle">2007</text>
<line x1="556.50" y1="140.40" x2="556.50" y2="143.20" stroke="#3a3a3a" stroke-width="0.9"/>
<text x="556.50" y="148.95" font-size="4.75" text-anchor="middle">2009</text>
<line x1="570.60" y1="140.40" x2="570.60" y2="143.20" stroke="#3a3a3a" stroke-width="0.9"/>
<text x="570.60" y="148.95" font-size="4.75" text-anchor="middle">2011</text>
<line x1="589.10" y1="140.40" x2="589.10" y2="143.20" stroke="#3a3a3a" stroke-width="0.9"/>
<text x="589.10" y="148.95" font-size="4.75" text-anchor="middle">1999</text>
<line x1="603.20" y1="140.40" x2="603.20" y2="143.20" stroke="#3a3a3a" stroke-width="0.9"/>
<text x="603.20" y="148.95" font-size="4.75" text-anchor="middle">2001</text>
<line x1="617.30" y1="140.40" x2="617.30" y2="143.20" stroke="#3a3a3a" stroke-width="0.9"/>
<text x="617.30" y="148.95" font-size="4.75" text-anchor="middle">2003</text>
<line x1="631.40" y1="140.40" x2="631.40" y2="143.20" stroke="#3a3a3a" stroke-width="0.9"/>
<text x="631.40" y="148.95" font-size="4.75" text-anchor="middle">2005</text>
<line x1="645.50" y1="140.40" x2="645.50" y2="143.20" stroke="#3a3a3a" stroke-width="0.9"/>
<text x="645.50" y="148.95" font-size="4.75" text-anchor="middle">2007</text>
<line x1="659.60" y1="140.40" x2="659.60" y2="143.20" stroke="#3a3a3a" stroke-width="0.9"/>
<text x="659.60" y="148.95" font-size="4.75" text-anchor="middle">2009</text>
<line x1="673.70" y1="140.40" x2="673.70" y2="143.20" stroke="#3a3a3a" stroke-width="0.9"/>
<text x="673.70" y="148.95" font-size="4.75" text-anchor="middle">2011</text>
<text x="530.10" y="157.80" font-size="5.0" text-anchor="middle">Year</text>
<text transform="translate(349.10,75.70) rotate(-90)" font-size="6.8" text-anchor="middle">Percent growth from 1999</text>
<text x="347.80" y="14.60" font-size="18" font-weight="bold">b</text>
<rect x="415.30" y="161.20" width="201.50" height="12.30" fill="none" stroke="#8a8a8a" stroke-width="0.9"/>
<line x1="417.97" y1="164.45" x2="436.50" y2="164.45" stroke="#111" stroke-width="1.1"/>
<circle cx="427.19" cy="164.45" r="1.6" fill="#111"/>
<rect x="425.19" y="168.60" width="3.4" height="3.4" fill="#d0d0d0" stroke="#6a6a6a" stroke-width="0.7"/>
<text x="439.57" y="166.30" font-size="5.00">Discharges</text>
<text x="439.57" y="172.30" font-size="5.00">Discharges 95% CI</text>
<line x1="485.44" y1="164.45" x2="490.00" y2="164.45" stroke="#111" stroke-width="1.1"/>
<line x1="498.12" y1="164.45" x2="502.18" y2="164.45" stroke="#111" stroke-width="1.1"/>
<polygon points="494.35,162.35 496.25,165.65 492.45,165.65" fill="#111"/>
<rect x="492.75" y="168.70" width="3.2" height="3.2" fill="#999999" stroke="#6a6a6a" stroke-width="0.6"/>
<text x="507.23" y="166.30" font-size="5.00">Charges</text>
<text x="507.23" y="172.30" font-size="5.00">Charges 95% CI</text>
<line x1="546.96" y1="164.45" x2="552.51" y2="164.45" stroke="#111" stroke-width="1.1"/>
<line x1="559.04" y1="164.45" x2="564.30" y2="164.45" stroke="#111" stroke-width="1.1"/>
<rect x="553.98" y="162.75" width="3.4" height="3.4" fill="#111"/>
<rect x="554.08" y="168.70" width="3.2" height="3.2" fill="#666666" stroke="#555" stroke-width="0.6"/>
<text x="566.57" y="166.30" font-size="5.00">Inpatient days</text>
<text x="566.57" y="172.30" font-size="5.00">Inpatient days 95% CI</text>
<line x1="28.00" y1="207.10" x2="130.90" y2="207.10" stroke="#ececec" stroke-width="0.6"/>
<line x1="28.00" y1="229.40" x2="130.90" y2="229.40" stroke="#ececec" stroke-width="0.6"/>
<line x1="28.00" y1="252.30" x2="130.90" y2="252.30" stroke="#ececec" stroke-width="0.6"/>
<line x1="28.00" y1="275.30" x2="130.90" y2="275.30" stroke="#ececec" stroke-width="0.6"/>
<line x1="28.00" y1="298.00" x2="130.90" y2="298.00" stroke="#ececec" stroke-width="0.6"/>
<line x1="28.00" y1="320.80" x2="130.90" y2="320.80" stroke="#ececec" stroke-width="0.6"/>
<line x1="130.90" y1="207.10" x2="233.80" y2="207.10" stroke="#ececec" stroke-width="0.6"/>
<line x1="130.90" y1="229.40" x2="233.80" y2="229.40" stroke="#ececec" stroke-width="0.6"/>
<line x1="130.90" y1="252.30" x2="233.80" y2="252.30" stroke="#ececec" stroke-width="0.6"/>
<line x1="130.90" y1="275.30" x2="233.80" y2="275.30" stroke="#ececec" stroke-width="0.6"/>
<line x1="130.90" y1="298.00" x2="233.80" y2="298.00" stroke="#ececec" stroke-width="0.6"/>
<line x1="130.90" y1="320.80" x2="233.80" y2="320.80" stroke="#ececec" stroke-width="0.6"/>
<line x1="233.80" y1="207.10" x2="336.70" y2="207.10" stroke="#ececec" stroke-width="0.6"/>
<line x1="233.80" y1="229.40" x2="336.70" y2="229.40" stroke="#ececec" stroke-width="0.6"/>
<line x1="233.80" y1="252.30" x2="336.70" y2="252.30" stroke="#ececec" stroke-width="0.6"/>
<line x1="233.80" y1="275.30" x2="336.70" y2="275.30" stroke="#ececec" stroke-width="0.6"/>
<line x1="233.80" y1="298.00" x2="336.70" y2="298.00" stroke="#ececec" stroke-width="0.6"/>
<line x1="233.80" y1="320.80" x2="336.70" y2="320.80" stroke="#ececec" stroke-width="0.6"/>
<line x1="105.80" y1="197.80" x2="105.80" y2="324.80" stroke="#b4b4b4" stroke-width="0.9"/>
<line x1="208.60" y1="197.80" x2="208.60" y2="324.80" stroke="#b4b4b4" stroke-width="0.9"/>
<line x1="311.60" y1="197.80" x2="311.60" y2="324.80" stroke="#b4b4b4" stroke-width="0.9"/>
<polygon points="105.80,288.90 112.86,285.90 119.92,282.90 126.98,279.90 126.98,285.30 119.92,288.10 112.86,290.90 105.80,293.70" fill="#c4c4c4" fill-opacity="0.8"/>
<polygon points="105.80,259.50 112.86,254.33 119.92,249.17 126.98,244.00 126.98,255.30 119.92,260.50 112.86,265.70 105.80,270.90" fill="#808080" fill-opacity="0.8"/>
<polygon points="105.80,276.10 112.86,272.10 119.92,268.10 126.98,264.10 126.98,269.30 119.92,273.00 112.86,276.60 105.80,280.30" fill="#454545" fill-opacity="0.8"/>
<polyline points="35.20,320.60 42.26,316.30 49.32,312.40 56.38,309.00 63.44,308.00 70.50,304.70 77.56,301.20 84.62,298.30 91.68,297.00 98.74,296.40 105.80,291.20 112.86,288.70 119.92,285.80 126.98,282.90" fill="none" stroke="#111" stroke-width="1.15"/>
<circle cx="35.20" cy="320.60" r="1.45" fill="#111"/>
<circle cx="42.26" cy="316.30" r="1.45" fill="#111"/>
<circle cx="49.32" cy="312.40" r="1.45" fill="#111"/>
<circle cx="56.38" cy="309.00" r="1.45" fill="#111"/>
<circle cx="63.44" cy="308.00" r="1.45" fill="#111"/>
<circle cx="70.50" cy="304.70" r="1.45" fill="#111"/>
<circle cx="77.56" cy="301.20" r="1.45" fill="#111"/>
<circle cx="84.62" cy="298.30" r="1.45" fill="#111"/>
<circle cx="91.68" cy="297.00" r="1.45" fill="#111"/>
<circle cx="98.74" cy="296.40" r="1.45" fill="#111"/>
<circle cx="105.80" cy="291.20" r="1.45" fill="#111"/>
<circle cx="112.86" cy="288.70" r="1.45" fill="#111"/>
<circle cx="119.92" cy="285.80" r="1.45" fill="#111"/>
<circle cx="126.98" cy="282.90" r="1.45" fill="#111"/>
<polyline points="35.20,320.60 42.26,315.10 49.32,308.00 56.38,304.70 63.44,299.30 70.50,293.10 77.56,285.40 84.62,277.60 91.68,275.10 98.74,277.00 105.80,266.00 112.86,261.00 119.92,255.80 126.98,250.60" fill="none" stroke="#111" stroke-width="1.15" stroke-dasharray="3.2,1.6"/>
<polygon points="35.20,318.65 36.95,321.65 33.45,321.65" fill="#111"/>
<polygon points="42.26,313.15 44.01,316.15 40.51,316.15" fill="#111"/>
<polygon points="49.32,306.05 51.07,309.05 47.57,309.05" fill="#111"/>
<polygon points="56.38,302.75 58.13,305.75 54.63,305.75" fill="#111"/>
<polygon points="63.44,297.35 65.19,300.35 61.69,300.35" fill="#111"/>
<polygon points="70.50,291.15 72.25,294.15 68.75,294.15" fill="#111"/>
<polygon points="77.56,283.45 79.31,286.45 75.81,286.45" fill="#111"/>
<polygon points="84.62,275.65 86.37,278.65 82.87,278.65" fill="#111"/>
<polygon points="91.68,273.15 93.43,276.15 89.93,276.15" fill="#111"/>
<polygon points="98.74,275.05 100.49,278.05 96.99,278.05" fill="#111"/>
<polygon points="105.80,264.05 107.55,267.05 104.05,267.05" fill="#111"/>
<polygon points="112.86,259.05 114.61,262.05 111.11,262.05" fill="#111"/>
<polygon points="119.92,253.85 121.67,256.85 118.17,256.85" fill="#111"/>
<polygon points="126.98,248.65 128.73,251.65 125.23,251.65" fill="#111"/>
<polyline points="35.20,320.60 42.26,315.70 49.32,309.90 56.38,306.10 63.44,305.10 70.50,299.70 77.56,295.00 84.62,289.20 91.68,286.10 98.74,284.80 105.80,278.40 112.86,275.10 119.92,270.70 126.98,266.00" fill="none" stroke="#111" stroke-width="1.15" stroke-dasharray="4.2,1.4"/>
<rect x="33.80" y="319.20" width="2.8" height="2.8" fill="#111"/>
<rect x="40.86" y="314.30" width="2.8" height="2.8" fill="#111"/>
<rect x="47.92" y="308.50" width="2.8" height="2.8" fill="#111"/>
<rect x="54.98" y="304.70" width="2.8" height="2.8" fill="#111"/>
<rect x="62.04" y="303.70" width="2.8" height="2.8" fill="#111"/>
<rect x="69.10" y="298.30" width="2.8" height="2.8" fill="#111"/>
<rect x="76.16" y="293.60" width="2.8" height="2.8" fill="#111"/>
<rect x="83.22" y="287.80" width="2.8" height="2.8" fill="#111"/>
<rect x="90.28" y="284.70" width="2.8" height="2.8" fill="#111"/>
<rect x="97.34" y="283.40" width="2.8" height="2.8" fill="#111"/>
<rect x="104.40" y="277.00" width="2.8" height="2.8" fill="#111"/>
<rect x="111.46" y="273.70" width="2.8" height="2.8" fill="#111"/>
<rect x="118.52" y="269.30" width="2.8" height="2.8" fill="#111"/>
<rect x="125.58" y="264.60" width="2.8" height="2.8" fill="#111"/>
<polygon points="208.60,258.00 215.66,253.67 222.72,249.33 229.78,245.00 229.78,262.00 222.72,266.33 215.66,270.67 208.60,275.00" fill="#c4c4c4" fill-opacity="0.8"/>
<polygon points="208.60,225.10 215.66,217.47 222.72,209.83 229.78,202.20 229.78,259.00 222.72,262.67 215.66,266.33 208.60,270.00" fill="#808080" fill-opacity="0.8"/>
<polygon points="208.60,247.00 215.66,242.80 222.72,238.60 229.78,234.40 229.78,261.00 222.72,265.00 215.66,269.00 208.60,273.00" fill="#454545" fill-opacity="0.8"/>
<polyline points="138.00,320.30 145.06,313.10 152.12,306.00 159.18,305.60 166.24,303.70 173.30,298.10 180.36,289.70 187.42,279.90 194.48,281.00 201.54,273.30 208.60,269.30 215.66,264.70 222.72,259.30 229.78,254.10" fill="none" stroke="#111" stroke-width="1.15"/>
<circle cx="138.00" cy="320.30" r="1.45" fill="#111"/>
<circle cx="145.06" cy="313.10" r="1.45" fill="#111"/>
<circle cx="152.12" cy="306.00" r="1.45" fill="#111"/>
<circle cx="159.18" cy="305.60" r="1.45" fill="#111"/>
<circle cx="166.24" cy="303.70" r="1.45" fill="#111"/>
<circle cx="173.30" cy="298.10" r="1.45" fill="#111"/>
<circle cx="180.36" cy="289.70" r="1.45" fill="#111"/>
<circle cx="187.42" cy="279.90" r="1.45" fill="#111"/>
<circle cx="194.48" cy="281.00" r="1.45" fill="#111"/>
<circle cx="201.54" cy="273.30" r="1.45" fill="#111"/>
<circle cx="208.60" cy="269.30" r="1.45" fill="#111"/>
<circle cx="215.66" cy="264.70" r="1.45" fill="#111"/>
<circle cx="222.72" cy="259.30" r="1.45" fill="#111"/>
<circle cx="229.78" cy="254.10" r="1.45" fill="#111"/>
<polyline points="138.00,320.30 145.06,307.40 152.12,295.80 159.18,296.70 166.24,293.40 173.30,281.70 180.36,263.90 187.42,260.70 194.48,266.30 201.54,243.60 208.60,240.60 215.66,233.10 222.72,225.60 229.78,217.90" fill="none" stroke="#111" stroke-width="1.15" stroke-dasharray="3.2,1.6"/>
<polygon points="138.00,318.35 139.75,321.35 136.25,321.35" fill="#111"/>
<polygon points="145.06,305.45 146.81,308.45 143.31,308.45" fill="#111"/>
<polygon points="152.12,293.85 153.87,296.85 150.37,296.85" fill="#111"/>
<polygon points="159.18,294.75 160.93,297.75 157.43,297.75" fill="#111"/>
<polygon points="166.24,291.45 167.99,294.45 164.49,294.45" fill="#111"/>
<polygon points="173.30,279.75 175.05,282.75 171.55,282.75" fill="#111"/>
<polygon points="180.36,261.95 182.11,264.95 178.61,264.95" fill="#111"/>
<polygon points="187.42,258.75 189.17,261.75 185.67,261.75" fill="#111"/>
<polygon points="194.48,264.35 196.23,267.35 192.73,267.35" fill="#111"/>
<polygon points="201.54,241.65 203.29,244.65 199.79,244.65" fill="#111"/>
<polygon points="208.60,238.65 210.35,241.65 206.85,241.65" fill="#111"/>
<polygon points="215.66,231.15 217.41,234.15 213.91,234.15" fill="#111"/>
<polygon points="222.72,223.65 224.47,226.65 220.97,226.65" fill="#111"/>
<polygon points="229.78,215.95 231.53,218.95 228.03,218.95" fill="#111"/>
<polyline points="138.00,320.30 145.06,306.70 152.12,296.70 159.18,299.00 166.24,296.20 173.30,289.70 180.36,279.40 187.42,274.00 194.48,277.00 201.54,266.30 208.60,261.60 215.66,256.00 222.72,251.30 229.78,245.20" fill="none" stroke="#111" stroke-width="1.15" stroke-dasharray="4.2,1.4"/>
<rect x="136.60" y="318.90" width="2.8" height="2.8" fill="#111"/>
<rect x="143.66" y="305.30" width="2.8" height="2.8" fill="#111"/>
<rect x="150.72" y="295.30" width="2.8" height="2.8" fill="#111"/>
<rect x="157.78" y="297.60" width="2.8" height="2.8" fill="#111"/>
<rect x="164.84" y="294.80" width="2.8" height="2.8" fill="#111"/>
<rect x="171.90" y="288.30" width="2.8" height="2.8" fill="#111"/>
<rect x="178.96" y="278.00" width="2.8" height="2.8" fill="#111"/>
<rect x="186.02" y="272.60" width="2.8" height="2.8" fill="#111"/>
<rect x="193.08" y="275.60" width="2.8" height="2.8" fill="#111"/>
<rect x="200.14" y="264.90" width="2.8" height="2.8" fill="#111"/>
<rect x="207.20" y="260.20" width="2.8" height="2.8" fill="#111"/>
<rect x="214.26" y="254.60" width="2.8" height="2.8" fill="#111"/>
<rect x="221.32" y="249.90" width="2.8" height="2.8" fill="#111"/>
<rect x="228.38" y="243.80" width="2.8" height="2.8" fill="#111"/>
<polygon points="311.60,283.00 318.66,280.23 325.72,277.47 332.78,274.70 332.78,283.80 325.72,287.93 318.66,292.07 311.60,296.20" fill="#c4c4c4" fill-opacity="0.8"/>
<polygon points="311.60,245.70 318.66,239.63 325.72,233.57 332.78,227.50 332.78,269.70 325.72,271.37 318.66,273.03 311.60,274.70" fill="#808080" fill-opacity="0.8"/>
<polygon points="311.60,263.40 318.66,259.43 325.72,255.47 332.78,251.50 332.78,278.00 325.72,281.87 318.66,285.73 311.60,289.60" fill="#454545" fill-opacity="0.8"/>
<polyline points="241.00,320.30 248.06,319.60 255.12,313.80 262.18,306.70 269.24,312.10 276.30,310.30 283.36,303.20 290.42,297.40 297.48,295.10 304.54,291.50 311.60,289.70 318.66,286.90 325.72,283.40 332.78,280.30" fill="none" stroke="#111" stroke-width="1.15"/>
<circle cx="241.00" cy="320.30" r="1.45" fill="#111"/>
<circle cx="248.06" cy="319.60" r="1.45" fill="#111"/>
<circle cx="255.12" cy="313.80" r="1.45" fill="#111"/>
<circle cx="262.18" cy="306.70" r="1.45" fill="#111"/>
<circle cx="269.24" cy="312.10" r="1.45" fill="#111"/>
<circle cx="276.30" cy="310.30" r="1.45" fill="#111"/>
<circle cx="283.36" cy="303.20" r="1.45" fill="#111"/>
<circle cx="290.42" cy="297.40" r="1.45" fill="#111"/>
<circle cx="297.48" cy="295.10" r="1.45" fill="#111"/>
<circle cx="304.54" cy="291.50" r="1.45" fill="#111"/>
<circle cx="311.60" cy="289.70" r="1.45" fill="#111"/>
<circle cx="318.66" cy="286.90" r="1.45" fill="#111"/>
<circle cx="325.72" cy="283.40" r="1.45" fill="#111"/>
<circle cx="332.78" cy="280.30" r="1.45" fill="#111"/>
<polyline points="241.00,320.30 248.06,316.10 255.12,303.70 262.18,293.40 269.24,306.70 276.30,294.40 283.36,279.40 290.42,279.90 297.48,267.00 304.54,274.00 311.60,261.60 318.66,256.50 325.72,251.30 332.78,245.20" fill="none" stroke="#111" stroke-width="1.15" stroke-dasharray="3.2,1.6"/>
<polygon points="241.00,318.35 242.75,321.35 239.25,321.35" fill="#111"/>
<polygon points="248.06,314.15 249.81,317.15 246.31,317.15" fill="#111"/>
<polygon points="255.12,301.75 256.87,304.75 253.37,304.75" fill="#111"/>
<polygon points="262.18,291.45 263.93,294.45 260.43,294.45" fill="#111"/>
<polygon points="269.24,304.75 270.99,307.75 267.49,307.75" fill="#111"/>
<polygon points="276.30,292.45 278.05,295.45 274.55,295.45" fill="#111"/>
<polygon points="283.36,277.45 285.11,280.45 281.61,280.45" fill="#111"/>
<polygon points="290.42,277.95 292.17,280.95 288.67,280.95" fill="#111"/>
<polygon points="297.48,265.05 299.23,268.05 295.73,268.05" fill="#111"/>
<polygon points="304.54,272.05 306.29,275.05 302.79,275.05" fill="#111"/>
<polygon points="311.60,259.65 313.35,262.65 309.85,262.65" fill="#111"/>
<polygon points="318.66,254.55 320.41,257.55 316.91,257.55" fill="#111"/>
<polygon points="325.72,249.35 327.47,252.35 323.97,252.35" fill="#111"/>
<polygon points="332.78,243.25 334.53,246.25 331.03,246.25" fill="#111"/>
<polyline points="241.00,320.30 248.06,318.40 255.12,308.40 262.18,297.40 269.24,310.70 276.30,293.90 283.36,293.90 290.42,293.90 297.48,279.90 304.54,287.30 311.60,275.20 318.66,276.30 325.72,268.60 332.78,267.00" fill="none" stroke="#111" stroke-width="1.15" stroke-dasharray="4.2,1.4"/>
<rect x="239.60" y="318.90" width="2.8" height="2.8" fill="#111"/>
<rect x="246.66" y="317.00" width="2.8" height="2.8" fill="#111"/>
<rect x="253.72" y="307.00" width="2.8" height="2.8" fill="#111"/>
<rect x="260.78" y="296.00" width="2.8" height="2.8" fill="#111"/>
<rect x="267.84" y="309.30" width="2.8" height="2.8" fill="#111"/>
<rect x="274.90" y="292.50" width="2.8" height="2.8" fill="#111"/>
<rect x="281.96" y="292.50" width="2.8" height="2.8" fill="#111"/>
<rect x="289.02" y="292.50" width="2.8" height="2.8" fill="#111"/>
<rect x="296.08" y="278.50" width="2.8" height="2.8" fill="#111"/>
<rect x="303.14" y="285.90" width="2.8" height="2.8" fill="#111"/>
<rect x="310.20" y="273.80" width="2.8" height="2.8" fill="#111"/>
<rect x="317.26" y="274.90" width="2.8" height="2.8" fill="#111"/>
<rect x="324.32" y="267.20" width="2.8" height="2.8" fill="#111"/>
<rect x="331.38" y="265.60" width="2.8" height="2.8" fill="#111"/>
<line x1="130.90" y1="191.40" x2="130.90" y2="324.80" stroke="#484848" stroke-width="1"/>
<line x1="233.80" y1="191.40" x2="233.80" y2="324.80" stroke="#484848" stroke-width="1"/>
<line x1="28.00" y1="197.80" x2="336.70" y2="197.80" stroke="#484848" stroke-width="1"/>
<rect x="28.00" y="191.40" width="308.70" height="133.40" fill="none" stroke="#9c9c9c" stroke-width="1.3"/>
<text x="79.45" y="196.50" font-size="4.9" text-anchor="middle">Pediatrics</text>
<text x="104.00" y="203.90" font-size="4.8" text-anchor="end">Actual</text>
<text x="106.40" y="322.20" font-size="4.8">Forecast</text>
<text x="182.35" y="196.50" font-size="4.9" text-anchor="middle">Transitional Adults</text>
<text x="206.80" y="203.90" font-size="4.8" text-anchor="end">Actual</text>
<text x="209.20" y="322.20" font-size="4.8">Forecast</text>
<text x="285.25" y="196.50" font-size="4.9" text-anchor="middle">Adults</text>
<text x="309.80" y="203.90" font-size="4.8" text-anchor="end">Actual</text>
<text x="312.20" y="322.20" font-size="4.8">Forecast</text>
<line x1="24.70" y1="207.10" x2="28.00" y2="207.10" stroke="#3a3a3a" stroke-width="0.9"/>
<text x="24.40" y="209.15" font-size="5.9" text-anchor="end">250%</text>
<line x1="24.70" y1="229.40" x2="28.00" y2="229.40" stroke="#3a3a3a" stroke-width="0.9"/>
<text x="24.40" y="231.45" font-size="5.9" text-anchor="end">200%</text>
<line x1="24.70" y1="252.30" x2="28.00" y2="252.30" stroke="#3a3a3a" stroke-width="0.9"/>
<text x="24.40" y="254.35" font-size="5.9" text-anchor="end">150%</text>
<line x1="24.70" y1="275.30" x2="28.00" y2="275.30" stroke="#3a3a3a" stroke-width="0.9"/>
<text x="24.40" y="277.35" font-size="5.9" text-anchor="end">100%</text>
<line x1="24.70" y1="298.00" x2="28.00" y2="298.00" stroke="#3a3a3a" stroke-width="0.9"/>
<text x="24.40" y="300.05" font-size="5.9" text-anchor="end">50%</text>
<line x1="24.70" y1="320.80" x2="28.00" y2="320.80" stroke="#3a3a3a" stroke-width="0.9"/>
<text x="24.40" y="322.85" font-size="5.9" text-anchor="end">0%</text>
<line x1="35.20" y1="324.80" x2="35.20" y2="327.60" stroke="#3a3a3a" stroke-width="0.9"/>
<text x="35.20" y="333.35" font-size="4.75" text-anchor="middle">1999</text>
<line x1="49.32" y1="324.80" x2="49.32" y2="327.60" stroke="#3a3a3a" stroke-width="0.9"/>
<text x="49.32" y="333.35" font-size="4.75" text-anchor="middle">2001</text>
<line x1="63.44" y1="324.80" x2="63.44" y2="327.60" stroke="#3a3a3a" stroke-width="0.9"/>
<text x="63.44" y="333.35" font-size="4.75" text-anchor="middle">2003</text>
<line x1="77.56" y1="324.80" x2="77.56" y2="327.60" stroke="#3a3a3a" stroke-width="0.9"/>
<text x="77.56" y="333.35" font-size="4.75" text-anchor="middle">2005</text>
<line x1="91.68" y1="324.80" x2="91.68" y2="327.60" stroke="#3a3a3a" stroke-width="0.9"/>
<text x="91.68" y="333.35" font-size="4.75" text-anchor="middle">2007</text>
<line x1="105.80" y1="324.80" x2="105.80" y2="327.60" stroke="#3a3a3a" stroke-width="0.9"/>
<text x="105.80" y="333.35" font-size="4.75" text-anchor="middle">2009</text>
<line x1="119.92" y1="324.80" x2="119.92" y2="327.60" stroke="#3a3a3a" stroke-width="0.9"/>
<text x="119.92" y="333.35" font-size="4.75" text-anchor="middle">2011</text>
<line x1="138.00" y1="324.80" x2="138.00" y2="327.60" stroke="#3a3a3a" stroke-width="0.9"/>
<text x="138.00" y="333.35" font-size="4.75" text-anchor="middle">1999</text>
<line x1="152.12" y1="324.80" x2="152.12" y2="327.60" stroke="#3a3a3a" stroke-width="0.9"/>
<text x="152.12" y="333.35" font-size="4.75" text-anchor="middle">2001</text>
<line x1="166.24" y1="324.80" x2="166.24" y2="327.60" stroke="#3a3a3a" stroke-width="0.9"/>
<text x="166.24" y="333.35" font-size="4.75" text-anchor="middle">2003</text>
<line x1="180.36" y1="324.80" x2="180.36" y2="327.60" stroke="#3a3a3a" stroke-width="0.9"/>
<text x="180.36" y="333.35" font-size="4.75" text-anchor="middle">2005</text>
<line x1="194.48" y1="324.80" x2="194.48" y2="327.60" stroke="#3a3a3a" stroke-width="0.9"/>
<text x="194.48" y="333.35" font-size="4.75" text-anchor="middle">2007</text>
<line x1="208.60" y1="324.80" x2="208.60" y2="327.60" stroke="#3a3a3a" stroke-width="0.9"/>
<text x="208.60" y="333.35" font-size="4.75" text-anchor="middle">2009</text>
<line x1="222.72" y1="324.80" x2="222.72" y2="327.60" stroke="#3a3a3a" stroke-width="0.9"/>
<text x="222.72" y="333.35" font-size="4.75" text-anchor="middle">2011</text>
<line x1="241.00" y1="324.80" x2="241.00" y2="327.60" stroke="#3a3a3a" stroke-width="0.9"/>
<text x="241.00" y="333.35" font-size="4.75" text-anchor="middle">1999</text>
<line x1="255.12" y1="324.80" x2="255.12" y2="327.60" stroke="#3a3a3a" stroke-width="0.9"/>
<text x="255.12" y="333.35" font-size="4.75" text-anchor="middle">2001</text>
<line x1="269.24" y1="324.80" x2="269.24" y2="327.60" stroke="#3a3a3a" stroke-width="0.9"/>
<text x="269.24" y="333.35" font-size="4.75" text-anchor="middle">2003</text>
<line x1="283.36" y1="324.80" x2="283.36" y2="327.60" stroke="#3a3a3a" stroke-width="0.9"/>
<text x="283.36" y="333.35" font-size="4.75" text-anchor="middle">2005</text>
<line x1="297.48" y1="324.80" x2="297.48" y2="327.60" stroke="#3a3a3a" stroke-width="0.9"/>
<text x="297.48" y="333.35" font-size="4.75" text-anchor="middle">2007</text>
<line x1="311.60" y1="324.80" x2="311.60" y2="327.60" stroke="#3a3a3a" stroke-width="0.9"/>
<text x="311.60" y="333.35" font-size="4.75" text-anchor="middle">2009</text>
<line x1="325.72" y1="324.80" x2="325.72" y2="327.60" stroke="#3a3a3a" stroke-width="0.9"/>
<text x="325.72" y="333.35" font-size="4.75" text-anchor="middle">2011</text>
<text x="182.35" y="342.20" font-size="5.0" text-anchor="middle">Year</text>
<text transform="translate(5.90,259.30) rotate(-90)" font-size="6.8" text-anchor="middle">Percent growth from 1999</text>
<text x="0.10" y="197.00" font-size="18" font-weight="bold">c</text>
<rect x="67.40" y="345.20" width="202.10" height="12.30" fill="none" stroke="#8a8a8a" stroke-width="0.9"/>
<line x1="70.08" y1="348.65" x2="88.66" y2="348.65" stroke="#111" stroke-width="1.1"/>
<circle cx="79.32" cy="348.65" r="1.6" fill="#111"/>
<rect x="77.33" y="352.85" width="3.4" height="3.4" fill="#d0d0d0" stroke="#6a6a6a" stroke-width="0.7"/>
<text x="91.74" y="350.50" font-size="5.02">Discharges</text>
<text x="91.74" y="356.55" font-size="5.02">Discharges 95% CI</text>
<line x1="137.75" y1="348.65" x2="142.32" y2="348.65" stroke="#111" stroke-width="1.1"/>
<line x1="150.47" y1="348.65" x2="154.54" y2="348.65" stroke="#111" stroke-width="1.1"/>
<polygon points="146.69,346.55 148.59,349.85 144.79,349.85" fill="#111"/>
<rect x="145.09" y="352.95" width="3.2" height="3.2" fill="#999999" stroke="#6a6a6a" stroke-width="0.6"/>
<text x="159.61" y="350.50" font-size="5.02">Charges</text>
<text x="159.61" y="356.55" font-size="5.02">Charges 95% CI</text>
<line x1="199.45" y1="348.65" x2="205.01" y2="348.65" stroke="#111" stroke-width="1.1"/>
<line x1="211.57" y1="348.65" x2="216.84" y2="348.65" stroke="#111" stroke-width="1.1"/>
<rect x="206.49" y="346.95" width="3.4" height="3.4" fill="#111"/>
<rect x="206.59" y="352.95" width="3.2" height="3.2" fill="#666666" stroke="#555" stroke-width="0.6"/>
<text x="219.12" y="350.50" font-size="5.02">Inpatient days</text>
<text x="219.12" y="356.55" font-size="5.02">Inpatient days 95% CI</text>
<line x1="379.10" y1="201.60" x2="480.60" y2="201.60" stroke="#ececec" stroke-width="0.6"/>
<line x1="379.10" y1="225.70" x2="480.60" y2="225.70" stroke="#ececec" stroke-width="0.6"/>
<line x1="379.10" y1="249.60" x2="480.60" y2="249.60" stroke="#ececec" stroke-width="0.6"/>
<line x1="379.10" y1="273.50" x2="480.60" y2="273.50" stroke="#ececec" stroke-width="0.6"/>
<line x1="379.10" y1="297.50" x2="480.60" y2="297.50" stroke="#ececec" stroke-width="0.6"/>
<line x1="379.10" y1="321.60" x2="480.60" y2="321.60" stroke="#ececec" stroke-width="0.6"/>
<line x1="480.60" y1="201.60" x2="582.40" y2="201.60" stroke="#ececec" stroke-width="0.6"/>
<line x1="480.60" y1="225.70" x2="582.40" y2="225.70" stroke="#ececec" stroke-width="0.6"/>
<line x1="480.60" y1="249.60" x2="582.40" y2="249.60" stroke="#ececec" stroke-width="0.6"/>
<line x1="480.60" y1="273.50" x2="582.40" y2="273.50" stroke="#ececec" stroke-width="0.6"/>
<line x1="480.60" y1="297.50" x2="582.40" y2="297.50" stroke="#ececec" stroke-width="0.6"/>
<line x1="480.60" y1="321.60" x2="582.40" y2="321.60" stroke="#ececec" stroke-width="0.6"/>
<line x1="582.40" y1="201.60" x2="684.00" y2="201.60" stroke="#ececec" stroke-width="0.6"/>
<line x1="582.40" y1="225.70" x2="684.00" y2="225.70" stroke="#ececec" stroke-width="0.6"/>
<line x1="582.40" y1="249.60" x2="684.00" y2="249.60" stroke="#ececec" stroke-width="0.6"/>
<line x1="582.40" y1="273.50" x2="684.00" y2="273.50" stroke="#ececec" stroke-width="0.6"/>
<line x1="582.40" y1="297.50" x2="684.00" y2="297.50" stroke="#ececec" stroke-width="0.6"/>
<line x1="582.40" y1="321.60" x2="684.00" y2="321.60" stroke="#ececec" stroke-width="0.6"/>
<line x1="455.80" y1="197.50" x2="455.80" y2="325.30" stroke="#b4b4b4" stroke-width="0.9"/>
<line x1="557.70" y1="197.50" x2="557.70" y2="325.30" stroke="#b4b4b4" stroke-width="0.9"/>
<line x1="659.40" y1="197.50" x2="659.40" y2="325.30" stroke="#b4b4b4" stroke-width="0.9"/>
<polygon points="455.80,290.00 462.76,289.50 469.72,289.00 476.68,288.50 476.68,292.30 469.72,292.30 462.76,292.30 455.80,292.30" fill="#c4c4c4" fill-opacity="0.8"/>
<polygon points="455.80,269.10 462.76,266.73 469.72,264.37 476.68,262.00 476.68,268.70 469.72,270.90 462.76,273.10 455.80,275.30" fill="#808080" fill-opacity="0.8"/>
<polygon points="455.80,284.00 462.76,283.30 469.72,282.60 476.68,281.90 476.68,289.80 469.72,290.37 462.76,290.93 455.80,291.50" fill="#454545" fill-opacity="0.8"/>
<polyline points="386.20,297.30 393.16,296.30 400.12,294.30 407.08,292.90 414.04,291.80 421.00,292.40 427.96,292.10 434.92,292.90 441.88,292.40 448.84,292.10 455.80,290.90 462.76,290.30 469.72,289.90 476.68,289.40" fill="none" stroke="#111" stroke-width="1.15"/>
<circle cx="386.20" cy="297.30" r="1.45" fill="#111"/>
<circle cx="393.16" cy="296.30" r="1.45" fill="#111"/>
<circle cx="400.12" cy="294.30" r="1.45" fill="#111"/>
<circle cx="407.08" cy="292.90" r="1.45" fill="#111"/>
<circle cx="414.04" cy="291.80" r="1.45" fill="#111"/>
<circle cx="421.00" cy="292.40" r="1.45" fill="#111"/>
<circle cx="427.96" cy="292.10" r="1.45" fill="#111"/>
<circle cx="434.92" cy="292.90" r="1.45" fill="#111"/>
<circle cx="441.88" cy="292.40" r="1.45" fill="#111"/>
<circle cx="448.84" cy="292.10" r="1.45" fill="#111"/>
<circle cx="455.80" cy="290.90" r="1.45" fill="#111"/>
<circle cx="462.76" cy="290.30" r="1.45" fill="#111"/>
<circle cx="469.72" cy="289.90" r="1.45" fill="#111"/>
<circle cx="476.68" cy="289.40" r="1.45" fill="#111"/>
<polyline points="386.20,297.30 393.16,294.80 400.12,291.40 407.08,287.90 414.04,284.70 421.00,282.40 427.96,280.90 434.92,280.90 441.88,278.00 448.84,275.70 455.80,272.00 462.76,269.80 469.72,268.00 476.68,265.60" fill="none" stroke="#111" stroke-width="1.15" stroke-dasharray="3.2,1.6"/>
<polygon points="386.20,295.35 387.95,298.35 384.45,298.35" fill="#111"/>
<polygon points="393.16,292.85 394.91,295.85 391.41,295.85" fill="#111"/>
<polygon points="400.12,289.45 401.87,292.45 398.37,292.45" fill="#111"/>
<polygon points="407.08,285.95 408.83,288.95 405.33,288.95" fill="#111"/>
<polygon points="414.04,282.75 415.79,285.75 412.29,285.75" fill="#111"/>
<polygon points="421.00,280.45 422.75,283.45 419.25,283.45" fill="#111"/>
<polygon points="427.96,278.95 429.71,281.95 426.21,281.95" fill="#111"/>
<polygon points="434.92,278.95 436.67,281.95 433.17,281.95" fill="#111"/>
<polygon points="441.88,276.05 443.63,279.05 440.13,279.05" fill="#111"/>
<polygon points="448.84,273.75 450.59,276.75 447.09,276.75" fill="#111"/>
<polygon points="455.80,270.05 457.55,273.05 454.05,273.05" fill="#111"/>
<polygon points="462.76,267.85 464.51,270.85 461.01,270.85" fill="#111"/>
<polygon points="469.72,266.05 471.47,269.05 467.97,269.05" fill="#111"/>
<polygon points="476.68,263.65 478.43,266.65 474.93,266.65" fill="#111"/>
<polyline points="386.20,297.30 393.16,295.80 400.12,293.90 407.08,292.10 414.04,291.40 421.00,291.80 427.96,291.40 434.92,292.40 441.88,290.60 448.84,288.80 455.80,288.40 462.76,287.30 469.72,286.90 476.68,286.20" fill="none" stroke="#111" stroke-width="1.15" stroke-dasharray="4.2,1.4"/>
<rect x="384.80" y="295.90" width="2.8" height="2.8" fill="#111"/>
<rect x="391.76" y="294.40" width="2.8" height="2.8" fill="#111"/>
<rect x="398.72" y="292.50" width="2.8" height="2.8" fill="#111"/>
<rect x="405.68" y="290.70" width="2.8" height="2.8" fill="#111"/>
<rect x="412.64" y="290.00" width="2.8" height="2.8" fill="#111"/>
<rect x="419.60" y="290.40" width="2.8" height="2.8" fill="#111"/>
<rect x="426.56" y="290.00" width="2.8" height="2.8" fill="#111"/>
<rect x="433.52" y="291.00" width="2.8" height="2.8" fill="#111"/>
<rect x="440.48" y="289.20" width="2.8" height="2.8" fill="#111"/>
<rect x="447.44" y="287.40" width="2.8" height="2.8" fill="#111"/>
<rect x="454.40" y="287.00" width="2.8" height="2.8" fill="#111"/>
<rect x="461.36" y="285.90" width="2.8" height="2.8" fill="#111"/>
<rect x="468.32" y="285.50" width="2.8" height="2.8" fill="#111"/>
<rect x="475.28" y="284.80" width="2.8" height="2.8" fill="#111"/>
<polygon points="557.70,264.50 564.66,263.00 571.62,261.50 578.58,260.00 578.58,269.50 571.62,271.00 564.66,272.50 557.70,274.00" fill="#c4c4c4" fill-opacity="0.8"/>
<polygon points="557.70,259.90 564.66,260.80 571.62,257.70 578.58,253.30 578.58,278.10 571.62,278.00 564.66,277.80 557.70,277.60" fill="#808080" fill-opacity="0.8"/>
<polygon points="557.70,273.10 564.66,273.10 571.62,273.10 578.58,273.10 578.58,288.10 571.62,288.83 564.66,289.57 557.70,290.30" fill="#454545" fill-opacity="0.8"/>
<polyline points="488.10,297.40 495.06,295.10 502.02,287.70 508.98,285.60 515.94,290.40 522.90,281.60 529.86,277.20 536.82,281.10 543.78,282.10 550.74,273.40 557.70,270.60 564.66,269.90 571.62,268.10 578.58,265.30" fill="none" stroke="#111" stroke-width="1.15"/>
<circle cx="488.10" cy="297.40" r="1.45" fill="#111"/>
<circle cx="495.06" cy="295.10" r="1.45" fill="#111"/>
<circle cx="502.02" cy="287.70" r="1.45" fill="#111"/>
<circle cx="508.98" cy="285.60" r="1.45" fill="#111"/>
<circle cx="515.94" cy="290.40" r="1.45" fill="#111"/>
<circle cx="522.90" cy="281.60" r="1.45" fill="#111"/>
<circle cx="529.86" cy="277.20" r="1.45" fill="#111"/>
<circle cx="536.82" cy="281.10" r="1.45" fill="#111"/>
<circle cx="543.78" cy="282.10" r="1.45" fill="#111"/>
<circle cx="550.74" cy="273.40" r="1.45" fill="#111"/>
<circle cx="557.70" cy="270.60" r="1.45" fill="#111"/>
<circle cx="564.66" cy="269.90" r="1.45" fill="#111"/>
<circle cx="571.62" cy="268.10" r="1.45" fill="#111"/>
<circle cx="578.58" cy="265.30" r="1.45" fill="#111"/>
<polyline points="488.10,297.40 495.06,293.90 502.02,286.30 508.98,282.50 515.94,286.90 522.90,281.10 529.86,273.40 536.82,280.40 543.78,279.90 550.74,272.30 557.70,268.50 564.66,268.80 571.62,266.70 578.58,264.10" fill="none" stroke="#111" stroke-width="1.15" stroke-dasharray="3.2,1.6"/>
<polygon points="488.10,295.45 489.85,298.45 486.35,298.45" fill="#111"/>
<polygon points="495.06,291.95 496.81,294.95 493.31,294.95" fill="#111"/>
<polygon points="502.02,284.35 503.77,287.35 500.27,287.35" fill="#111"/>
<polygon points="508.98,280.55 510.73,283.55 507.23,283.55" fill="#111"/>
<polygon points="515.94,284.95 517.69,287.95 514.19,287.95" fill="#111"/>
<polygon points="522.90,279.15 524.65,282.15 521.15,282.15" fill="#111"/>
<polygon points="529.86,271.45 531.61,274.45 528.11,274.45" fill="#111"/>
<polygon points="536.82,278.45 538.57,281.45 535.07,281.45" fill="#111"/>
<polygon points="543.78,277.95 545.53,280.95 542.03,280.95" fill="#111"/>
<polygon points="550.74,270.35 552.49,273.35 548.99,273.35" fill="#111"/>
<polygon points="557.70,266.55 559.45,269.55 555.95,269.55" fill="#111"/>
<polygon points="564.66,266.85 566.41,269.85 562.91,269.85" fill="#111"/>
<polygon points="571.62,264.75 573.37,267.75 569.87,267.75" fill="#111"/>
<polygon points="578.58,262.15 580.33,265.15 576.83,265.15" fill="#111"/>
<polyline points="488.10,297.40 495.06,297.90 502.02,290.90 508.98,289.10 515.94,293.30 522.90,289.50 529.86,284.60 536.82,289.10 543.78,290.40 550.74,285.60 557.70,284.60 564.66,282.80 571.62,281.60 578.58,280.40" fill="none" stroke="#111" stroke-width="1.15" stroke-dasharray="4.2,1.4"/>
<rect x="486.70" y="296.00" width="2.8" height="2.8" fill="#111"/>
<rect x="493.66" y="296.50" width="2.8" height="2.8" fill="#111"/>
<rect x="500.62" y="289.50" width="2.8" height="2.8" fill="#111"/>
<rect x="507.58" y="287.70" width="2.8" height="2.8" fill="#111"/>
<rect x="514.54" y="291.90" width="2.8" height="2.8" fill="#111"/>
<rect x="521.50" y="288.10" width="2.8" height="2.8" fill="#111"/>
<rect x="528.46" y="283.20" width="2.8" height="2.8" fill="#111"/>
<rect x="535.42" y="287.70" width="2.8" height="2.8" fill="#111"/>
<rect x="542.38" y="289.00" width="2.8" height="2.8" fill="#111"/>
<rect x="549.34" y="284.20" width="2.8" height="2.8" fill="#111"/>
<rect x="556.30" y="283.20" width="2.8" height="2.8" fill="#111"/>
<rect x="563.26" y="281.40" width="2.8" height="2.8" fill="#111"/>
<rect x="570.22" y="280.20" width="2.8" height="2.8" fill="#111"/>
<rect x="577.18" y="279.00" width="2.8" height="2.8" fill="#111"/>
<polygon points="659.40,278.00 666.36,277.33 673.32,276.67 680.28,276.00 680.28,302.00 673.32,300.33 666.36,298.67 659.40,297.00" fill="#c4c4c4" fill-opacity="0.8"/>
<polygon points="659.40,214.80 666.36,211.13 673.32,207.47 680.28,203.80 680.28,292.50 673.32,292.17 666.36,291.83 659.40,291.50" fill="#808080" fill-opacity="0.8"/>
<polygon points="659.40,259.30 666.36,258.73 673.32,258.17 680.28,257.60 680.28,316.10 673.32,314.53 666.36,312.97 659.40,311.40" fill="#454545" fill-opacity="0.8"/>
<polyline points="589.80,297.40 596.76,282.20 603.72,283.90 610.68,281.30 617.64,274.60 624.60,271.70 631.56,285.10 638.52,293.90 645.48,294.10 652.44,290.60 659.40,287.30 666.36,287.90 673.32,288.50 680.28,289.20" fill="none" stroke="#111" stroke-width="1.15"/>
<circle cx="589.80" cy="297.40" r="1.45" fill="#111"/>
<circle cx="596.76" cy="282.20" r="1.45" fill="#111"/>
<circle cx="603.72" cy="283.90" r="1.45" fill="#111"/>
<circle cx="610.68" cy="281.30" r="1.45" fill="#111"/>
<circle cx="617.64" cy="274.60" r="1.45" fill="#111"/>
<circle cx="624.60" cy="271.70" r="1.45" fill="#111"/>
<circle cx="631.56" cy="285.10" r="1.45" fill="#111"/>
<circle cx="638.52" cy="293.90" r="1.45" fill="#111"/>
<circle cx="645.48" cy="294.10" r="1.45" fill="#111"/>
<circle cx="652.44" cy="290.60" r="1.45" fill="#111"/>
<circle cx="659.40" cy="287.30" r="1.45" fill="#111"/>
<circle cx="666.36" cy="287.90" r="1.45" fill="#111"/>
<circle cx="673.32" cy="288.50" r="1.45" fill="#111"/>
<circle cx="680.28" cy="289.20" r="1.45" fill="#111"/>
<polyline points="589.80,297.40 596.76,272.40 603.72,265.80 610.68,269.30 617.64,248.30 624.60,237.30 631.56,255.30 638.52,265.80 645.48,271.30 652.44,261.80 659.40,252.30 666.36,249.90 673.32,247.60 680.28,245.20" fill="none" stroke="#111" stroke-width="1.15" stroke-dasharray="3.2,1.6"/>
<polygon points="589.80,295.45 591.55,298.45 588.05,298.45" fill="#111"/>
<polygon points="596.76,270.45 598.51,273.45 595.01,273.45" fill="#111"/>
<polygon points="603.72,263.85 605.47,266.85 601.97,266.85" fill="#111"/>
<polygon points="610.68,267.35 612.43,270.35 608.93,270.35" fill="#111"/>
<polygon points="617.64,246.35 619.39,249.35 615.89,249.35" fill="#111"/>
<polygon points="624.60,235.35 626.35,238.35 622.85,238.35" fill="#111"/>
<polygon points="631.56,253.35 633.31,256.35 629.81,256.35" fill="#111"/>
<polygon points="638.52,263.85 640.27,266.85 636.77,266.85" fill="#111"/>
<polygon points="645.48,269.35 647.23,272.35 643.73,272.35" fill="#111"/>
<polygon points="652.44,259.85 654.19,262.85 650.69,262.85" fill="#111"/>
<polygon points="659.40,250.35 661.15,253.35 657.65,253.35" fill="#111"/>
<polygon points="666.36,247.95 668.11,250.95 664.61,250.95" fill="#111"/>
<polygon points="673.32,245.65 675.07,248.65 671.57,248.65" fill="#111"/>
<polygon points="680.28,243.25 682.03,246.25 678.53,246.25" fill="#111"/>
<polyline points="589.80,297.40 596.76,280.40 603.72,275.20 610.68,279.50 617.64,268.80 624.60,269.90 631.56,274.20 638.52,288.00 645.48,296.80 652.44,290.60 659.40,285.50 666.36,286.00 673.32,286.50 680.28,287.00" fill="none" stroke="#111" stroke-width="1.15" stroke-dasharray="4.2,1.4"/>
<rect x="588.40" y="296.00" width="2.8" height="2.8" fill="#111"/>
<rect x="595.36" y="279.00" width="2.8" height="2.8" fill="#111"/>
<rect x="602.32" y="273.80" width="2.8" height="2.8" fill="#111"/>
<rect x="609.28" y="278.10" width="2.8" height="2.8" fill="#111"/>
<rect x="616.24" y="267.40" width="2.8" height="2.8" fill="#111"/>
<rect x="623.20" y="268.50" width="2.8" height="2.8" fill="#111"/>
<rect x="630.16" y="272.80" width="2.8" height="2.8" fill="#111"/>
<rect x="637.12" y="286.60" width="2.8" height="2.8" fill="#111"/>
<rect x="644.08" y="295.40" width="2.8" height="2.8" fill="#111"/>
<rect x="651.04" y="289.20" width="2.8" height="2.8" fill="#111"/>
<rect x="658.00" y="284.10" width="2.8" height="2.8" fill="#111"/>
<rect x="664.96" y="284.60" width="2.8" height="2.8" fill="#111"/>
<rect x="671.92" y="285.10" width="2.8" height="2.8" fill="#111"/>
<rect x="678.88" y="285.60" width="2.8" height="2.8" fill="#111"/>
<line x1="480.60" y1="191.30" x2="480.60" y2="325.30" stroke="#484848" stroke-width="1"/>
<line x1="582.40" y1="191.30" x2="582.40" y2="325.30" stroke="#484848" stroke-width="1"/>
<line x1="379.10" y1="197.50" x2="684.00" y2="197.50" stroke="#484848" stroke-width="1"/>
<rect x="379.10" y="191.30" width="304.90" height="134.00" fill="none" stroke="#9c9c9c" stroke-width="1.3"/>
<text x="429.85" y="196.20" font-size="4.9" text-anchor="middle">Pediatrics</text>
<text x="454.00" y="203.60" font-size="4.8" text-anchor="end">Actual</text>
<text x="456.40" y="322.70" font-size="4.8">Forecast</text>
<text x="531.50" y="196.20" font-size="4.9" text-anchor="middle">Transitional Adults</text>
<text x="555.90" y="203.60" font-size="4.8" text-anchor="end">Actual</text>
<text x="558.30" y="322.70" font-size="4.8">Forecast</text>
<text x="633.20" y="196.20" font-size="4.9" text-anchor="middle">Adults</text>
<text x="657.60" y="203.60" font-size="4.8" text-anchor="end">Actual</text>
<text x="660.00" y="322.70" font-size="4.8">Forecast</text>
<line x1="375.80" y1="201.60" x2="379.10" y2="201.60" stroke="#3a3a3a" stroke-width="0.9"/>
<text x="375.50" y="203.65" font-size="5.9" text-anchor="end">400%</text>
<line x1="375.80" y1="225.70" x2="379.10" y2="225.70" stroke="#3a3a3a" stroke-width="0.9"/>
<text x="375.50" y="227.75" font-size="5.9" text-anchor="end">300%</text>
<line x1="375.80" y1="249.60" x2="379.10" y2="249.60" stroke="#3a3a3a" stroke-width="0.9"/>
<text x="375.50" y="251.65" font-size="5.9" text-anchor="end">200%</text>
<line x1="375.80" y1="273.50" x2="379.10" y2="273.50" stroke="#3a3a3a" stroke-width="0.9"/>
<text x="375.50" y="275.55" font-size="5.9" text-anchor="end">100%</text>
<line x1="375.80" y1="297.50" x2="379.10" y2="297.50" stroke="#3a3a3a" stroke-width="0.9"/>
<text x="375.50" y="299.55" font-size="5.9" text-anchor="end">0%</text>
<line x1="375.80" y1="321.60" x2="379.10" y2="321.60" stroke="#3a3a3a" stroke-width="0.9"/>
<text x="375.50" y="323.65" font-size="5.9" text-anchor="end">(100%)</text>
<line x1="386.20" y1="325.30" x2="386.20" y2="328.10" stroke="#3a3a3a" stroke-width="0.9"/>
<text x="386.20" y="333.85" font-size="4.75" text-anchor="middle">1999</text>
<line x1="400.12" y1="325.30" x2="400.12" y2="328.10" stroke="#3a3a3a" stroke-width="0.9"/>
<text x="400.12" y="333.85" font-size="4.75" text-anchor="middle">2001</text>
<line x1="414.04" y1="325.30" x2="414.04" y2="328.10" stroke="#3a3a3a" stroke-width="0.9"/>
<text x="414.04" y="333.85" font-size="4.75" text-anchor="middle">2003</text>
<line x1="427.96" y1="325.30" x2="427.96" y2="328.10" stroke="#3a3a3a" stroke-width="0.9"/>
<text x="427.96" y="333.85" font-size="4.75" text-anchor="middle">2005</text>
<line x1="441.88" y1="325.30" x2="441.88" y2="328.10" stroke="#3a3a3a" stroke-width="0.9"/>
<text x="441.88" y="333.85" font-size="4.75" text-anchor="middle">2007</text>
<line x1="455.80" y1="325.30" x2="455.80" y2="328.10" stroke="#3a3a3a" stroke-width="0.9"/>
<text x="455.80" y="333.85" font-size="4.75" text-anchor="middle">2009</text>
<line x1="469.72" y1="325.30" x2="469.72" y2="328.10" stroke="#3a3a3a" stroke-width="0.9"/>
<text x="469.72" y="333.85" font-size="4.75" text-anchor="middle">2011</text>
<line x1="488.10" y1="325.30" x2="488.10" y2="328.10" stroke="#3a3a3a" stroke-width="0.9"/>
<text x="488.10" y="333.85" font-size="4.75" text-anchor="middle">1999</text>
<line x1="502.02" y1="325.30" x2="502.02" y2="328.10" stroke="#3a3a3a" stroke-width="0.9"/>
<text x="502.02" y="333.85" font-size="4.75" text-anchor="middle">2001</text>
<line x1="515.94" y1="325.30" x2="515.94" y2="328.10" stroke="#3a3a3a" stroke-width="0.9"/>
<text x="515.94" y="333.85" font-size="4.75" text-anchor="middle">2003</text>
<line x1="529.86" y1="325.30" x2="529.86" y2="328.10" stroke="#3a3a3a" stroke-width="0.9"/>
<text x="529.86" y="333.85" font-size="4.75" text-anchor="middle">2005</text>
<line x1="543.78" y1="325.30" x2="543.78" y2="328.10" stroke="#3a3a3a" stroke-width="0.9"/>
<text x="543.78" y="333.85" font-size="4.75" text-anchor="middle">2007</text>
<line x1="557.70" y1="325.30" x2="557.70" y2="328.10" stroke="#3a3a3a" stroke-width="0.9"/>
<text x="557.70" y="333.85" font-size="4.75" text-anchor="middle">2009</text>
<line x1="571.62" y1="325.30" x2="571.62" y2="328.10" stroke="#3a3a3a" stroke-width="0.9"/>
<text x="571.62" y="333.85" font-size="4.75" text-anchor="middle">2011</text>
<line x1="589.80" y1="325.30" x2="589.80" y2="328.10" stroke="#3a3a3a" stroke-width="0.9"/>
<text x="589.80" y="333.85" font-size="4.75" text-anchor="middle">1999</text>
<line x1="603.72" y1="325.30" x2="603.72" y2="328.10" stroke="#3a3a3a" stroke-width="0.9"/>
<text x="603.72" y="333.85" font-size="4.75" text-anchor="middle">2001</text>
<line x1="617.64" y1="325.30" x2="617.64" y2="328.10" stroke="#3a3a3a" stroke-width="0.9"/>
<text x="617.64" y="333.85" font-size="4.75" text-anchor="middle">2003</text>
<line x1="631.56" y1="325.30" x2="631.56" y2="328.10" stroke="#3a3a3a" stroke-width="0.9"/>
<text x="631.56" y="333.85" font-size="4.75" text-anchor="middle">2005</text>
<line x1="645.48" y1="325.30" x2="645.48" y2="328.10" stroke="#3a3a3a" stroke-width="0.9"/>
<text x="645.48" y="333.85" font-size="4.75" text-anchor="middle">2007</text>
<line x1="659.40" y1="325.30" x2="659.40" y2="328.10" stroke="#3a3a3a" stroke-width="0.9"/>
<text x="659.40" y="333.85" font-size="4.75" text-anchor="middle">2009</text>
<line x1="673.32" y1="325.30" x2="673.32" y2="328.10" stroke="#3a3a3a" stroke-width="0.9"/>
<text x="673.32" y="333.85" font-size="4.75" text-anchor="middle">2011</text>
<text x="531.55" y="342.70" font-size="5.0" text-anchor="middle">Year</text>
<text transform="translate(353.30,261.40) rotate(-90)" font-size="6.8" text-anchor="middle">Percent growth from 1999</text>
<text x="348.20" y="197.00" font-size="18" font-weight="bold">d</text>
<rect x="415.30" y="345.80" width="201.30" height="12.30" fill="none" stroke="#8a8a8a" stroke-width="0.9"/>
<line x1="417.97" y1="349.25" x2="436.48" y2="349.25" stroke="#111" stroke-width="1.1"/>
<circle cx="427.18" cy="349.25" r="1.6" fill="#111"/>
<rect x="425.18" y="353.40" width="3.4" height="3.4" fill="#d0d0d0" stroke="#6a6a6a" stroke-width="0.7"/>
<text x="439.55" y="351.10" font-size="5.00">Discharges</text>
<text x="439.55" y="357.10" font-size="5.00">Discharges 95% CI</text>
<line x1="485.37" y1="349.25" x2="489.92" y2="349.25" stroke="#111" stroke-width="1.1"/>
<line x1="498.04" y1="349.25" x2="502.09" y2="349.25" stroke="#111" stroke-width="1.1"/>
<polygon points="494.28,347.15 496.18,350.45 492.38,350.45" fill="#111"/>
<rect x="492.68" y="353.50" width="3.2" height="3.2" fill="#999999" stroke="#6a6a6a" stroke-width="0.6"/>
<text x="507.14" y="351.10" font-size="5.00">Charges</text>
<text x="507.14" y="357.10" font-size="5.00">Charges 95% CI</text>
<line x1="546.83" y1="349.25" x2="552.37" y2="349.25" stroke="#111" stroke-width="1.1"/>
<line x1="558.90" y1="349.25" x2="564.15" y2="349.25" stroke="#111" stroke-width="1.1"/>
<rect x="553.84" y="347.55" width="3.4" height="3.4" fill="#111"/>
<rect x="553.94" y="353.50" width="3.2" height="3.2" fill="#666666" stroke="#555" stroke-width="0.6"/>
<text x="566.42" y="351.10" font-size="5.00">Inpatient days</text>
<text x="566.42" y="357.10" font-size="5.00">Inpatient days 95% CI</text>
<line x1="28.60" y1="391.20" x2="131.10" y2="391.20" stroke="#ececec" stroke-width="0.6"/>
<line x1="28.60" y1="429.00" x2="131.10" y2="429.00" stroke="#ececec" stroke-width="0.6"/>
<line x1="28.60" y1="467.00" x2="131.10" y2="467.00" stroke="#ececec" stroke-width="0.6"/>
<line x1="28.60" y1="505.10" x2="131.10" y2="505.10" stroke="#ececec" stroke-width="0.6"/>
<line x1="131.10" y1="391.20" x2="233.80" y2="391.20" stroke="#ececec" stroke-width="0.6"/>
<line x1="131.10" y1="429.00" x2="233.80" y2="429.00" stroke="#ececec" stroke-width="0.6"/>
<line x1="131.10" y1="467.00" x2="233.80" y2="467.00" stroke="#ececec" stroke-width="0.6"/>
<line x1="131.10" y1="505.10" x2="233.80" y2="505.10" stroke="#ececec" stroke-width="0.6"/>
<line x1="233.80" y1="391.20" x2="336.40" y2="391.20" stroke="#ececec" stroke-width="0.6"/>
<line x1="233.80" y1="429.00" x2="336.40" y2="429.00" stroke="#ececec" stroke-width="0.6"/>
<line x1="233.80" y1="467.00" x2="336.40" y2="467.00" stroke="#ececec" stroke-width="0.6"/>
<line x1="233.80" y1="505.10" x2="336.40" y2="505.10" stroke="#ececec" stroke-width="0.6"/>
<line x1="106.20" y1="381.60" x2="106.20" y2="509.20" stroke="#b4b4b4" stroke-width="0.9"/>
<line x1="209.20" y1="381.60" x2="209.20" y2="509.20" stroke="#b4b4b4" stroke-width="0.9"/>
<line x1="311.90" y1="381.60" x2="311.90" y2="509.20" stroke="#b4b4b4" stroke-width="0.9"/>
<polygon points="106.20,473.70 113.26,474.33 120.32,474.97 127.38,475.60 127.38,481.90 120.32,480.63 113.26,479.37 106.20,478.10" fill="#c4c4c4" fill-opacity="0.8"/>
<polygon points="106.20,455.00 113.26,454.73 120.32,454.47 127.38,454.20 127.38,499.70 120.32,497.80 113.26,495.90 106.20,494.00" fill="#808080" fill-opacity="0.8"/>
<polygon points="106.20,476.80 113.26,477.67 120.32,478.53 127.38,479.40 127.38,493.40 120.32,492.97 113.26,492.53 106.20,492.10" fill="#454545" fill-opacity="0.8"/>
<polyline points="35.60,467.10 42.66,468.30 49.72,465.60 56.78,464.80 63.84,465.60 70.90,467.80 77.96,472.80 85.02,474.30 92.08,479.40 99.14,480.90 106.20,479.40 113.26,480.90 120.32,482.90 127.38,484.80" fill="none" stroke="#111" stroke-width="1.15"/>
<circle cx="35.60" cy="467.10" r="1.45" fill="#111"/>
<circle cx="42.66" cy="468.30" r="1.45" fill="#111"/>
<circle cx="49.72" cy="465.60" r="1.45" fill="#111"/>
<circle cx="56.78" cy="464.80" r="1.45" fill="#111"/>
<circle cx="63.84" cy="465.60" r="1.45" fill="#111"/>
<circle cx="70.90" cy="467.80" r="1.45" fill="#111"/>
<circle cx="77.96" cy="472.80" r="1.45" fill="#111"/>
<circle cx="85.02" cy="474.30" r="1.45" fill="#111"/>
<circle cx="92.08" cy="479.40" r="1.45" fill="#111"/>
<circle cx="99.14" cy="480.90" r="1.45" fill="#111"/>
<circle cx="106.20" cy="479.40" r="1.45" fill="#111"/>
<circle cx="113.26" cy="480.90" r="1.45" fill="#111"/>
<circle cx="120.32" cy="482.90" r="1.45" fill="#111"/>
<circle cx="127.38" cy="484.80" r="1.45" fill="#111"/>
<polyline points="35.60,467.10 42.66,463.80 49.72,459.20 56.78,459.20 63.84,456.20 70.90,458.80 77.96,462.90 85.02,462.30 92.08,467.10 99.14,472.30 106.20,466.30 113.26,466.80 120.32,467.40 127.38,467.80" fill="none" stroke="#111" stroke-width="1.15" stroke-dasharray="3.2,1.6"/>
<polygon points="35.60,465.15 37.35,468.15 33.85,468.15" fill="#111"/>
<polygon points="42.66,461.85 44.41,464.85 40.91,464.85" fill="#111"/>
<polygon points="49.72,457.25 51.47,460.25 47.97,460.25" fill="#111"/>
<polygon points="56.78,457.25 58.53,460.25 55.03,460.25" fill="#111"/>
<polygon points="63.84,454.25 65.59,457.25 62.09,457.25" fill="#111"/>
<polygon points="70.90,456.85 72.65,459.85 69.15,459.85" fill="#111"/>
<polygon points="77.96,460.95 79.71,463.95 76.21,463.95" fill="#111"/>
<polygon points="85.02,460.35 86.77,463.35 83.27,463.35" fill="#111"/>
<polygon points="92.08,465.15 93.83,468.15 90.33,468.15" fill="#111"/>
<polygon points="99.14,470.35 100.89,473.35 97.39,473.35" fill="#111"/>
<polygon points="106.20,464.35 107.95,467.35 104.45,467.35" fill="#111"/>
<polygon points="113.26,464.85 115.01,467.85 111.51,467.85" fill="#111"/>
<polygon points="120.32,465.45 122.07,468.45 118.57,468.45" fill="#111"/>
<polygon points="127.38,465.85 129.13,468.85 125.63,468.85" fill="#111"/>
<polyline points="35.60,467.10 42.66,467.80 49.72,465.30 56.78,463.80 63.84,466.30 70.90,470.80 77.96,477.90 85.02,475.30 92.08,481.40 99.14,485.40 106.20,484.40 113.26,486.30 120.32,488.40 127.38,490.40" fill="none" stroke="#111" stroke-width="1.15" stroke-dasharray="4.2,1.4"/>
<rect x="34.20" y="465.70" width="2.8" height="2.8" fill="#111"/>
<rect x="41.26" y="466.40" width="2.8" height="2.8" fill="#111"/>
<rect x="48.32" y="463.90" width="2.8" height="2.8" fill="#111"/>
<rect x="55.38" y="462.40" width="2.8" height="2.8" fill="#111"/>
<rect x="62.44" y="464.90" width="2.8" height="2.8" fill="#111"/>
<rect x="69.50" y="469.40" width="2.8" height="2.8" fill="#111"/>
<rect x="76.56" y="476.50" width="2.8" height="2.8" fill="#111"/>
<rect x="83.62" y="473.90" width="2.8" height="2.8" fill="#111"/>
<rect x="90.68" y="480.00" width="2.8" height="2.8" fill="#111"/>
<rect x="97.74" y="484.00" width="2.8" height="2.8" fill="#111"/>
<rect x="104.80" y="483.00" width="2.8" height="2.8" fill="#111"/>
<rect x="111.86" y="484.90" width="2.8" height="2.8" fill="#111"/>
<rect x="118.92" y="487.00" width="2.8" height="2.8" fill="#111"/>
<rect x="125.98" y="489.00" width="2.8" height="2.8" fill="#111"/>
<polygon points="209.20,427.70 216.26,424.77 223.32,421.83 230.38,418.90 230.38,427.70 223.32,429.67 216.26,431.63 209.20,433.60" fill="#c4c4c4" fill-opacity="0.8"/>
<polygon points="209.20,407.80 216.26,402.40 223.32,397.00 230.38,391.60 230.38,451.30 223.32,453.27 216.26,455.23 209.20,457.20" fill="#808080" fill-opacity="0.8"/>
<polygon points="209.20,429.20 216.26,426.23 223.32,423.27 230.38,420.30 230.38,442.40 223.32,443.90 216.26,445.40 209.20,446.90" fill="#454545" fill-opacity="0.8"/>
<polyline points="138.60,467.40 145.66,469.00 152.72,458.00 159.78,469.00 166.84,460.30 173.90,455.00 180.96,457.30 188.02,447.00 195.08,444.00 202.14,439.30 209.20,439.30 216.26,436.30 223.32,433.00 230.38,429.90" fill="none" stroke="#111" stroke-width="1.15"/>
<circle cx="138.60" cy="467.40" r="1.45" fill="#111"/>
<circle cx="145.66" cy="469.00" r="1.45" fill="#111"/>
<circle cx="152.72" cy="458.00" r="1.45" fill="#111"/>
<circle cx="159.78" cy="469.00" r="1.45" fill="#111"/>
<circle cx="166.84" cy="460.30" r="1.45" fill="#111"/>
<circle cx="173.90" cy="455.00" r="1.45" fill="#111"/>
<circle cx="180.96" cy="457.30" r="1.45" fill="#111"/>
<circle cx="188.02" cy="447.00" r="1.45" fill="#111"/>
<circle cx="195.08" cy="444.00" r="1.45" fill="#111"/>
<circle cx="202.14" cy="439.30" r="1.45" fill="#111"/>
<circle cx="209.20" cy="439.30" r="1.45" fill="#111"/>
<circle cx="216.26" cy="436.30" r="1.45" fill="#111"/>
<circle cx="223.32" cy="433.00" r="1.45" fill="#111"/>
<circle cx="230.38" cy="429.90" r="1.45" fill="#111"/>
<polyline points="138.60,467.40 145.66,472.00 152.72,464.30 159.78,457.30 166.84,463.40 173.90,445.60 180.96,446.30 188.02,438.10 195.08,426.40 202.14,428.80 209.20,422.90 216.26,417.50 223.32,411.90 230.38,406.60" fill="none" stroke="#111" stroke-width="1.15" stroke-dasharray="3.2,1.6"/>
<polygon points="138.60,465.45 140.35,468.45 136.85,468.45" fill="#111"/>
<polygon points="145.66,470.05 147.41,473.05 143.91,473.05" fill="#111"/>
<polygon points="152.72,462.35 154.47,465.35 150.97,465.35" fill="#111"/>
<polygon points="159.78,455.35 161.53,458.35 158.03,458.35" fill="#111"/>
<polygon points="166.84,461.45 168.59,464.45 165.09,464.45" fill="#111"/>
<polygon points="173.90,443.65 175.65,446.65 172.15,446.65" fill="#111"/>
<polygon points="180.96,444.35 182.71,447.35 179.21,447.35" fill="#111"/>
<polygon points="188.02,436.15 189.77,439.15 186.27,439.15" fill="#111"/>
<polygon points="195.08,424.45 196.83,427.45 193.33,427.45" fill="#111"/>
<polygon points="202.14,426.85 203.89,429.85 200.39,429.85" fill="#111"/>
<polygon points="209.20,420.95 210.95,423.95 207.45,423.95" fill="#111"/>
<polygon points="216.26,415.55 218.01,418.55 214.51,418.55" fill="#111"/>
<polygon points="223.32,409.95 225.07,412.95 221.57,412.95" fill="#111"/>
<polygon points="230.38,404.65 232.13,407.65 228.63,407.65" fill="#111"/>
<polyline points="138.60,467.40 145.66,475.10 152.72,465.00 159.78,469.00 166.84,470.40 173.90,456.40 180.96,458.70 188.02,458.00 195.08,450.30 202.14,438.60 209.20,444.70 216.26,441.60 223.32,438.60 230.38,435.80" fill="none" stroke="#111" stroke-width="1.15" stroke-dasharray="4.2,1.4"/>
<rect x="137.20" y="466.00" width="2.8" height="2.8" fill="#111"/>
<rect x="144.26" y="473.70" width="2.8" height="2.8" fill="#111"/>
<rect x="151.32" y="463.60" width="2.8" height="2.8" fill="#111"/>
<rect x="158.38" y="467.60" width="2.8" height="2.8" fill="#111"/>
<rect x="165.44" y="469.00" width="2.8" height="2.8" fill="#111"/>
<rect x="172.50" y="455.00" width="2.8" height="2.8" fill="#111"/>
<rect x="179.56" y="457.30" width="2.8" height="2.8" fill="#111"/>
<rect x="186.62" y="456.60" width="2.8" height="2.8" fill="#111"/>
<rect x="193.68" y="448.90" width="2.8" height="2.8" fill="#111"/>
<rect x="200.74" y="437.20" width="2.8" height="2.8" fill="#111"/>
<rect x="207.80" y="443.30" width="2.8" height="2.8" fill="#111"/>
<rect x="214.86" y="440.20" width="2.8" height="2.8" fill="#111"/>
<rect x="221.92" y="437.20" width="2.8" height="2.8" fill="#111"/>
<rect x="228.98" y="434.40" width="2.8" height="2.8" fill="#111"/>
<polygon points="311.90,448.50 318.96,447.33 326.02,446.17 333.08,445.00 333.08,489.60 326.02,488.80 318.96,488.00 311.90,487.20" fill="#c4c4c4" fill-opacity="0.8"/>
<polygon points="311.90,401.50 318.96,396.17 326.02,390.83 333.08,385.50 333.08,445.00 326.02,446.17 318.96,447.33 311.90,448.50" fill="#808080" fill-opacity="0.8"/>
<polygon points="311.90,424.10 318.96,419.43 326.02,414.77 333.08,410.10 333.08,469.70 326.02,470.47 318.96,471.23 311.90,472.00" fill="#454545" fill-opacity="0.8"/>
<polyline points="241.30,467.40 248.36,470.40 255.42,472.00 262.48,462.00 269.54,464.30 276.60,482.10 283.66,470.40 290.72,474.40 297.78,473.70 304.84,457.30 311.90,469.00 318.96,469.00 326.02,469.00 333.08,469.00" fill="none" stroke="#111" stroke-width="1.15"/>
<circle cx="241.30" cy="467.40" r="1.45" fill="#111"/>
<circle cx="248.36" cy="470.40" r="1.45" fill="#111"/>
<circle cx="255.42" cy="472.00" r="1.45" fill="#111"/>
<circle cx="262.48" cy="462.00" r="1.45" fill="#111"/>
<circle cx="269.54" cy="464.30" r="1.45" fill="#111"/>
<circle cx="276.60" cy="482.10" r="1.45" fill="#111"/>
<circle cx="283.66" cy="470.40" r="1.45" fill="#111"/>
<circle cx="290.72" cy="474.40" r="1.45" fill="#111"/>
<circle cx="297.78" cy="473.70" r="1.45" fill="#111"/>
<circle cx="304.84" cy="457.30" r="1.45" fill="#111"/>
<circle cx="311.90" cy="469.00" r="1.45" fill="#111"/>
<circle cx="318.96" cy="469.00" r="1.45" fill="#111"/>
<circle cx="326.02" cy="469.00" r="1.45" fill="#111"/>
<circle cx="333.08" cy="469.00" r="1.45" fill="#111"/>
<polyline points="241.30,467.40 248.36,463.40 255.42,472.00 262.48,450.30 269.54,433.90 276.60,462.70 283.66,440.00 290.72,440.90 297.78,441.60 304.84,420.60 311.90,425.30 318.96,420.60 326.02,416.60 333.08,411.90" fill="none" stroke="#111" stroke-width="1.15" stroke-dasharray="3.2,1.6"/>
<polygon points="241.30,465.45 243.05,468.45 239.55,468.45" fill="#111"/>
<polygon points="248.36,461.45 250.11,464.45 246.61,464.45" fill="#111"/>
<polygon points="255.42,470.05 257.17,473.05 253.67,473.05" fill="#111"/>
<polygon points="262.48,448.35 264.23,451.35 260.73,451.35" fill="#111"/>
<polygon points="269.54,431.95 271.29,434.95 267.79,434.95" fill="#111"/>
<polygon points="276.60,460.75 278.35,463.75 274.85,463.75" fill="#111"/>
<polygon points="283.66,438.05 285.41,441.05 281.91,441.05" fill="#111"/>
<polygon points="290.72,438.95 292.47,441.95 288.97,441.95" fill="#111"/>
<polygon points="297.78,439.65 299.53,442.65 296.03,442.65" fill="#111"/>
<polygon points="304.84,418.65 306.59,421.65 303.09,421.65" fill="#111"/>
<polygon points="311.90,423.35 313.65,426.35 310.15,426.35" fill="#111"/>
<polygon points="318.96,418.65 320.71,421.65 317.21,421.65" fill="#111"/>
<polygon points="326.02,414.65 327.77,417.65 324.27,417.65" fill="#111"/>
<polygon points="333.08,409.95 334.83,412.95 331.33,412.95" fill="#111"/>
<polyline points="241.30,467.40 248.36,465.00 255.42,479.80 262.48,461.00 269.54,452.20 276.60,474.40 283.66,464.30 290.72,467.40 297.78,447.00 304.84,437.00 311.90,447.50 318.96,444.70 326.02,442.30 333.08,439.30" fill="none" stroke="#111" stroke-width="1.15" stroke-dasharray="4.2,1.4"/>
<rect x="239.90" y="466.00" width="2.8" height="2.8" fill="#111"/>
<rect x="246.96" y="463.60" width="2.8" height="2.8" fill="#111"/>
<rect x="254.02" y="478.40" width="2.8" height="2.8" fill="#111"/>
<rect x="261.08" y="459.60" width="2.8" height="2.8" fill="#111"/>
<rect x="268.14" y="450.80" width="2.8" height="2.8" fill="#111"/>
<rect x="275.20" y="473.00" width="2.8" height="2.8" fill="#111"/>
<rect x="282.26" y="462.90" width="2.8" height="2.8" fill="#111"/>
<rect x="289.32" y="466.00" width="2.8" height="2.8" fill="#111"/>
<rect x="296.38" y="445.60" width="2.8" height="2.8" fill="#111"/>
<rect x="303.44" y="435.60" width="2.8" height="2.8" fill="#111"/>
<rect x="310.50" y="446.10" width="2.8" height="2.8" fill="#111"/>
<rect x="317.56" y="443.30" width="2.8" height="2.8" fill="#111"/>
<rect x="324.62" y="440.90" width="2.8" height="2.8" fill="#111"/>
<rect x="331.68" y="437.90" width="2.8" height="2.8" fill="#111"/>
<line x1="131.10" y1="374.70" x2="131.10" y2="509.20" stroke="#484848" stroke-width="1"/>
<line x1="233.80" y1="374.70" x2="233.80" y2="509.20" stroke="#484848" stroke-width="1"/>
<line x1="28.60" y1="381.60" x2="336.40" y2="381.60" stroke="#484848" stroke-width="1"/>
<rect x="28.60" y="374.70" width="307.80" height="134.50" fill="none" stroke="#9c9c9c" stroke-width="1.3"/>
<text x="79.85" y="380.30" font-size="4.9" text-anchor="middle">Pediatrics</text>
<text x="104.40" y="387.70" font-size="4.8" text-anchor="end">Actual</text>
<text x="106.80" y="506.60" font-size="4.8">Forecast</text>
<text x="182.45" y="380.30" font-size="4.9" text-anchor="middle">Transitional Adults</text>
<text x="207.40" y="387.70" font-size="4.8" text-anchor="end">Actual</text>
<text x="209.80" y="506.60" font-size="4.8">Forecast</text>
<text x="285.10" y="380.30" font-size="4.9" text-anchor="middle">Adults</text>
<text x="310.10" y="387.70" font-size="4.8" text-anchor="end">Actual</text>
<text x="312.50" y="506.60" font-size="4.8">Forecast</text>
<line x1="25.30" y1="391.20" x2="28.60" y2="391.20" stroke="#3a3a3a" stroke-width="0.9"/>
<text x="25.00" y="393.25" font-size="5.9" text-anchor="end">100%</text>
<line x1="25.30" y1="429.00" x2="28.60" y2="429.00" stroke="#3a3a3a" stroke-width="0.9"/>
<text x="25.00" y="431.05" font-size="5.9" text-anchor="end">50%</text>
<line x1="25.30" y1="467.00" x2="28.60" y2="467.00" stroke="#3a3a3a" stroke-width="0.9"/>
<text x="25.00" y="469.05" font-size="5.9" text-anchor="end">0%</text>
<line x1="25.30" y1="505.10" x2="28.60" y2="505.10" stroke="#3a3a3a" stroke-width="0.9"/>
<text x="25.00" y="507.15" font-size="5.9" text-anchor="end">(50%)</text>
<line x1="35.60" y1="509.20" x2="35.60" y2="512.00" stroke="#3a3a3a" stroke-width="0.9"/>
<text x="35.60" y="517.75" font-size="4.75" text-anchor="middle">1999</text>
<line x1="49.72" y1="509.20" x2="49.72" y2="512.00" stroke="#3a3a3a" stroke-width="0.9"/>
<text x="49.72" y="517.75" font-size="4.75" text-anchor="middle">2001</text>
<line x1="63.84" y1="509.20" x2="63.84" y2="512.00" stroke="#3a3a3a" stroke-width="0.9"/>
<text x="63.84" y="517.75" font-size="4.75" text-anchor="middle">2003</text>
<line x1="77.96" y1="509.20" x2="77.96" y2="512.00" stroke="#3a3a3a" stroke-width="0.9"/>
<text x="77.96" y="517.75" font-size="4.75" text-anchor="middle">2005</text>
<line x1="92.08" y1="509.20" x2="92.08" y2="512.00" stroke="#3a3a3a" stroke-width="0.9"/>
<text x="92.08" y="517.75" font-size="4.75" text-anchor="middle">2007</text>
<line x1="106.20" y1="509.20" x2="106.20" y2="512.00" stroke="#3a3a3a" stroke-width="0.9"/>
<text x="106.20" y="517.75" font-size="4.75" text-anchor="middle">2009</text>
<line x1="120.32" y1="509.20" x2="120.32" y2="512.00" stroke="#3a3a3a" stroke-width="0.9"/>
<text x="120.32" y="517.75" font-size="4.75" text-anchor="middle">2011</text>
<line x1="138.60" y1="509.20" x2="138.60" y2="512.00" stroke="#3a3a3a" stroke-width="0.9"/>
<text x="138.60" y="517.75" font-size="4.75" text-anchor="middle">1999</text>
<line x1="152.72" y1="509.20" x2="152.72" y2="512.00" stroke="#3a3a3a" stroke-width="0.9"/>
<text x="152.72" y="517.75" font-size="4.75" text-anchor="middle">2001</text>
<line x1="166.84" y1="509.20" x2="166.84" y2="512.00" stroke="#3a3a3a" stroke-width="0.9"/>
<text x="166.84" y="517.75" font-size="4.75" text-anchor="middle">2003</text>
<line x1="180.96" y1="509.20" x2="180.96" y2="512.00" stroke="#3a3a3a" stroke-width="0.9"/>
<text x="180.96" y="517.75" font-size="4.75" text-anchor="middle">2005</text>
<line x1="195.08" y1="509.20" x2="195.08" y2="512.00" stroke="#3a3a3a" stroke-width="0.9"/>
<text x="195.08" y="517.75" font-size="4.75" text-anchor="middle">2007</text>
<line x1="209.20" y1="509.20" x2="209.20" y2="512.00" stroke="#3a3a3a" stroke-width="0.9"/>
<text x="209.20" y="517.75" font-size="4.75" text-anchor="middle">2009</text>
<line x1="223.32" y1="509.20" x2="223.32" y2="512.00" stroke="#3a3a3a" stroke-width="0.9"/>
<text x="223.32" y="517.75" font-size="4.75" text-anchor="middle">2011</text>
<line x1="241.30" y1="509.20" x2="241.30" y2="512.00" stroke="#3a3a3a" stroke-width="0.9"/>
<text x="241.30" y="517.75" font-size="4.75" text-anchor="middle">1999</text>
<line x1="255.42" y1="509.20" x2="255.42" y2="512.00" stroke="#3a3a3a" stroke-width="0.9"/>
<text x="255.42" y="517.75" font-size="4.75" text-anchor="middle">2001</text>
<line x1="269.54" y1="509.20" x2="269.54" y2="512.00" stroke="#3a3a3a" stroke-width="0.9"/>
<text x="269.54" y="517.75" font-size="4.75" text-anchor="middle">2003</text>
<line x1="283.66" y1="509.20" x2="283.66" y2="512.00" stroke="#3a3a3a" stroke-width="0.9"/>
<text x="283.66" y="517.75" font-size="4.75" text-anchor="middle">2005</text>
<line x1="297.78" y1="509.20" x2="297.78" y2="512.00" stroke="#3a3a3a" stroke-width="0.9"/>
<text x="297.78" y="517.75" font-size="4.75" text-anchor="middle">2007</text>
<line x1="311.90" y1="509.20" x2="311.90" y2="512.00" stroke="#3a3a3a" stroke-width="0.9"/>
<text x="311.90" y="517.75" font-size="4.75" text-anchor="middle">2009</text>
<line x1="326.02" y1="509.20" x2="326.02" y2="512.00" stroke="#3a3a3a" stroke-width="0.9"/>
<text x="326.02" y="517.75" font-size="4.75" text-anchor="middle">2011</text>
<text x="182.50" y="526.60" font-size="5.0" text-anchor="middle">Year</text>
<text transform="translate(5.90,444.00) rotate(-90)" font-size="6.8" text-anchor="middle">Percent growth from 1999</text>
<text x="0.10" y="380.20" font-size="18" font-weight="bold">e</text>
<rect x="66.40" y="530.40" width="202.30" height="12.00" fill="none" stroke="#8a8a8a" stroke-width="0.9"/>
<line x1="69.09" y1="533.40" x2="87.68" y2="533.40" stroke="#111" stroke-width="1.1"/>
<circle cx="78.34" cy="533.40" r="1.6" fill="#111"/>
<rect x="76.34" y="537.70" width="3.4" height="3.4" fill="#d0d0d0" stroke="#6a6a6a" stroke-width="0.7"/>
<text x="90.77" y="535.25" font-size="5.02">Discharges</text>
<text x="90.77" y="541.40" font-size="5.02">Discharges 95% CI</text>
<line x1="136.82" y1="533.40" x2="141.39" y2="533.40" stroke="#111" stroke-width="1.1"/>
<line x1="149.55" y1="533.40" x2="153.63" y2="533.40" stroke="#111" stroke-width="1.1"/>
<polygon points="145.77,531.30 147.67,534.60 143.87,534.60" fill="#111"/>
<rect x="144.17" y="537.80" width="3.2" height="3.2" fill="#999999" stroke="#6a6a6a" stroke-width="0.6"/>
<text x="158.70" y="535.25" font-size="5.02">Charges</text>
<text x="158.70" y="541.40" font-size="5.02">Charges 95% CI</text>
<line x1="198.58" y1="533.40" x2="204.15" y2="533.40" stroke="#111" stroke-width="1.1"/>
<line x1="210.72" y1="533.40" x2="215.99" y2="533.40" stroke="#111" stroke-width="1.1"/>
<rect x="205.63" y="531.70" width="3.4" height="3.4" fill="#111"/>
<rect x="205.73" y="537.80" width="3.2" height="3.2" fill="#666666" stroke="#555" stroke-width="0.6"/>
<text x="218.27" y="535.25" font-size="5.02">Inpatient days</text>
<text x="218.27" y="541.40" font-size="5.02">Inpatient days 95% CI</text>
<line x1="379.30" y1="385.30" x2="480.80" y2="385.30" stroke="#ececec" stroke-width="0.6"/>
<line x1="379.30" y1="414.60" x2="480.80" y2="414.60" stroke="#ececec" stroke-width="0.6"/>
<line x1="379.30" y1="443.80" x2="480.80" y2="443.80" stroke="#ececec" stroke-width="0.6"/>
<line x1="379.30" y1="473.10" x2="480.80" y2="473.10" stroke="#ececec" stroke-width="0.6"/>
<line x1="379.30" y1="502.40" x2="480.80" y2="502.40" stroke="#ececec" stroke-width="0.6"/>
<line x1="480.80" y1="385.30" x2="582.30" y2="385.30" stroke="#ececec" stroke-width="0.6"/>
<line x1="480.80" y1="414.60" x2="582.30" y2="414.60" stroke="#ececec" stroke-width="0.6"/>
<line x1="480.80" y1="443.80" x2="582.30" y2="443.80" stroke="#ececec" stroke-width="0.6"/>
<line x1="480.80" y1="473.10" x2="582.30" y2="473.10" stroke="#ececec" stroke-width="0.6"/>
<line x1="480.80" y1="502.40" x2="582.30" y2="502.40" stroke="#ececec" stroke-width="0.6"/>
<line x1="582.30" y1="385.30" x2="684.00" y2="385.30" stroke="#ececec" stroke-width="0.6"/>
<line x1="582.30" y1="414.60" x2="684.00" y2="414.60" stroke="#ececec" stroke-width="0.6"/>
<line x1="582.30" y1="443.80" x2="684.00" y2="443.80" stroke="#ececec" stroke-width="0.6"/>
<line x1="582.30" y1="473.10" x2="684.00" y2="473.10" stroke="#ececec" stroke-width="0.6"/>
<line x1="582.30" y1="502.40" x2="684.00" y2="502.40" stroke="#ececec" stroke-width="0.6"/>
<line x1="455.80" y1="381.60" x2="455.80" y2="508.30" stroke="#b4b4b4" stroke-width="0.9"/>
<line x1="557.70" y1="381.60" x2="557.70" y2="508.30" stroke="#b4b4b4" stroke-width="0.9"/>
<line x1="659.40" y1="381.60" x2="659.40" y2="508.30" stroke="#b4b4b4" stroke-width="0.9"/>
<polygon points="455.80,428.00 462.76,424.67 469.72,421.33 476.68,418.00 476.68,428.50 469.72,431.33 462.76,434.17 455.80,437.00" fill="#c4c4c4" fill-opacity="0.8"/>
<polygon points="455.80,413.80 462.76,408.23 469.72,402.67 476.68,397.10 476.68,427.40 469.72,430.20 462.76,433.00 455.80,435.80" fill="#808080" fill-opacity="0.8"/>
<polygon points="455.80,437.10 462.76,434.30 469.72,431.50 476.68,428.70 476.68,442.90 469.72,445.90 462.76,448.90 455.80,451.90" fill="#454545" fill-opacity="0.8"/>
<polyline points="386.20,473.20 393.16,475.10 400.12,470.40 407.08,463.90 414.04,459.20 421.00,456.80 427.96,452.20 434.92,448.70 441.88,444.00 448.84,439.30 455.80,437.00 462.76,433.00 469.72,428.80 476.68,425.30" fill="none" stroke="#111" stroke-width="1.15"/>
<circle cx="386.20" cy="473.20" r="1.45" fill="#111"/>
<circle cx="393.16" cy="475.10" r="1.45" fill="#111"/>
<circle cx="400.12" cy="470.40" r="1.45" fill="#111"/>
<circle cx="407.08" cy="463.90" r="1.45" fill="#111"/>
<circle cx="414.04" cy="459.20" r="1.45" fill="#111"/>
<circle cx="421.00" cy="456.80" r="1.45" fill="#111"/>
<circle cx="427.96" cy="452.20" r="1.45" fill="#111"/>
<circle cx="434.92" cy="448.70" r="1.45" fill="#111"/>
<circle cx="441.88" cy="444.00" r="1.45" fill="#111"/>
<circle cx="448.84" cy="439.30" r="1.45" fill="#111"/>
<circle cx="455.80" cy="437.00" r="1.45" fill="#111"/>
<circle cx="462.76" cy="433.00" r="1.45" fill="#111"/>
<circle cx="469.72" cy="428.80" r="1.45" fill="#111"/>
<circle cx="476.68" cy="425.30" r="1.45" fill="#111"/>
<polyline points="386.20,473.20 393.16,472.00 400.12,469.70 407.08,465.00 414.04,461.00 421.00,457.30 427.96,453.30 434.92,448.70 441.88,431.60 448.84,426.00 455.80,426.90 462.76,421.80 469.72,415.90 476.68,410.10" fill="none" stroke="#111" stroke-width="1.15" stroke-dasharray="3.2,1.6"/>
<polygon points="386.20,471.25 387.95,474.25 384.45,474.25" fill="#111"/>
<polygon points="393.16,470.05 394.91,473.05 391.41,473.05" fill="#111"/>
<polygon points="400.12,467.75 401.87,470.75 398.37,470.75" fill="#111"/>
<polygon points="407.08,463.05 408.83,466.05 405.33,466.05" fill="#111"/>
<polygon points="414.04,459.05 415.79,462.05 412.29,462.05" fill="#111"/>
<polygon points="421.00,455.35 422.75,458.35 419.25,458.35" fill="#111"/>
<polygon points="427.96,451.35 429.71,454.35 426.21,454.35" fill="#111"/>
<polygon points="434.92,446.75 436.67,449.75 433.17,449.75" fill="#111"/>
<polygon points="441.88,429.65 443.63,432.65 440.13,432.65" fill="#111"/>
<polygon points="448.84,424.05 450.59,427.05 447.09,427.05" fill="#111"/>
<polygon points="455.80,424.95 457.55,427.95 454.05,427.95" fill="#111"/>
<polygon points="462.76,419.85 464.51,422.85 461.01,422.85" fill="#111"/>
<polygon points="469.72,413.95 471.47,416.95 467.97,416.95" fill="#111"/>
<polygon points="476.68,408.15 478.43,411.15 474.93,411.15" fill="#111"/>
<polyline points="386.20,473.20 393.16,477.40 400.12,472.00 407.08,468.10 414.04,465.00 421.00,463.90 427.96,460.30 434.92,458.00 441.88,450.30 448.84,445.10 455.80,445.60 462.76,442.30 469.72,439.30 476.68,436.30" fill="none" stroke="#111" stroke-width="1.15" stroke-dasharray="4.2,1.4"/>
<rect x="384.80" y="471.80" width="2.8" height="2.8" fill="#111"/>
<rect x="391.76" y="476.00" width="2.8" height="2.8" fill="#111"/>
<rect x="398.72" y="470.60" width="2.8" height="2.8" fill="#111"/>
<rect x="405.68" y="466.70" width="2.8" height="2.8" fill="#111"/>
<rect x="412.64" y="463.60" width="2.8" height="2.8" fill="#111"/>
<rect x="419.60" y="462.50" width="2.8" height="2.8" fill="#111"/>
<rect x="426.56" y="458.90" width="2.8" height="2.8" fill="#111"/>
<rect x="433.52" y="456.60" width="2.8" height="2.8" fill="#111"/>
<rect x="440.48" y="448.90" width="2.8" height="2.8" fill="#111"/>
<rect x="447.44" y="443.70" width="2.8" height="2.8" fill="#111"/>
<rect x="454.40" y="444.20" width="2.8" height="2.8" fill="#111"/>
<rect x="461.36" y="440.90" width="2.8" height="2.8" fill="#111"/>
<rect x="468.32" y="437.90" width="2.8" height="2.8" fill="#111"/>
<rect x="475.28" y="434.90" width="2.8" height="2.8" fill="#111"/>
<polygon points="557.70,440.00 564.66,437.33 571.62,434.67 578.58,432.00 578.58,445.00 571.62,446.67 564.66,448.33 557.70,450.00" fill="#c4c4c4" fill-opacity="0.8"/>
<polygon points="557.70,406.70 564.66,400.13 571.62,393.57 578.58,387.00 578.58,467.50 571.62,469.03 564.66,470.57 557.70,472.10" fill="#808080" fill-opacity="0.8"/>
<polygon points="557.70,435.20 564.66,430.93 571.62,426.67 578.58,422.40 578.58,451.80 571.62,454.87 564.66,457.93 557.70,461.00" fill="#454545" fill-opacity="0.8"/>
<polyline points="488.10,473.20 495.06,475.10 502.02,483.70 508.98,467.40 515.94,472.00 522.90,461.00 529.86,460.30 536.82,456.80 543.78,453.30 550.74,443.30 557.70,445.10 564.66,442.80 571.62,439.30 578.58,435.80" fill="none" stroke="#111" stroke-width="1.15"/>
<circle cx="488.10" cy="473.20" r="1.45" fill="#111"/>
<circle cx="495.06" cy="475.10" r="1.45" fill="#111"/>
<circle cx="502.02" cy="483.70" r="1.45" fill="#111"/>
<circle cx="508.98" cy="467.40" r="1.45" fill="#111"/>
<circle cx="515.94" cy="472.00" r="1.45" fill="#111"/>
<circle cx="522.90" cy="461.00" r="1.45" fill="#111"/>
<circle cx="529.86" cy="460.30" r="1.45" fill="#111"/>
<circle cx="536.82" cy="456.80" r="1.45" fill="#111"/>
<circle cx="543.78" cy="453.30" r="1.45" fill="#111"/>
<circle cx="550.74" cy="443.30" r="1.45" fill="#111"/>
<circle cx="557.70" cy="445.10" r="1.45" fill="#111"/>
<circle cx="564.66" cy="442.80" r="1.45" fill="#111"/>
<circle cx="571.62" cy="439.30" r="1.45" fill="#111"/>
<circle cx="578.58" cy="435.80" r="1.45" fill="#111"/>
<polyline points="488.10,473.20 495.06,471.30 502.02,482.60 508.98,474.40 515.94,470.90 522.90,461.50 529.86,460.30 536.82,451.00 543.78,456.40 550.74,417.10 557.70,433.90 564.66,428.80 571.62,424.10 578.58,418.90" fill="none" stroke="#111" stroke-width="1.15" stroke-dasharray="3.2,1.6"/>
<polygon points="488.10,471.25 489.85,474.25 486.35,474.25" fill="#111"/>
<polygon points="495.06,469.35 496.81,472.35 493.31,472.35" fill="#111"/>
<polygon points="502.02,480.65 503.77,483.65 500.27,483.65" fill="#111"/>
<polygon points="508.98,472.45 510.73,475.45 507.23,475.45" fill="#111"/>
<polygon points="515.94,468.95 517.69,471.95 514.19,471.95" fill="#111"/>
<polygon points="522.90,459.55 524.65,462.55 521.15,462.55" fill="#111"/>
<polygon points="529.86,458.35 531.61,461.35 528.11,461.35" fill="#111"/>
<polygon points="536.82,449.05 538.57,452.05 535.07,452.05" fill="#111"/>
<polygon points="543.78,454.45 545.53,457.45 542.03,457.45" fill="#111"/>
<polygon points="550.74,415.15 552.49,418.15 548.99,418.15" fill="#111"/>
<polygon points="557.70,431.95 559.45,434.95 555.95,434.95" fill="#111"/>
<polygon points="564.66,426.85 566.41,429.85 562.91,429.85" fill="#111"/>
<polygon points="571.62,422.15 573.37,425.15 569.87,425.15" fill="#111"/>
<polygon points="578.58,416.95 580.33,419.95 576.83,419.95" fill="#111"/>
<polyline points="488.10,473.20 495.06,476.70 502.02,486.80 508.98,474.40 515.94,477.90 522.90,462.70 529.86,468.50 536.82,461.00 543.78,467.40 550.74,445.60 557.70,453.30 564.66,451.00 571.62,448.70 578.58,445.10" fill="none" stroke="#111" stroke-width="1.15" stroke-dasharray="4.2,1.4"/>
<rect x="486.70" y="471.80" width="2.8" height="2.8" fill="#111"/>
<rect x="493.66" y="475.30" width="2.8" height="2.8" fill="#111"/>
<rect x="500.62" y="485.40" width="2.8" height="2.8" fill="#111"/>
<rect x="507.58" y="473.00" width="2.8" height="2.8" fill="#111"/>
<rect x="514.54" y="476.50" width="2.8" height="2.8" fill="#111"/>
<rect x="521.50" y="461.30" width="2.8" height="2.8" fill="#111"/>
<rect x="528.46" y="467.10" width="2.8" height="2.8" fill="#111"/>
<rect x="535.42" y="459.60" width="2.8" height="2.8" fill="#111"/>
<rect x="542.38" y="466.00" width="2.8" height="2.8" fill="#111"/>
<rect x="549.34" y="444.20" width="2.8" height="2.8" fill="#111"/>
<rect x="556.30" y="451.90" width="2.8" height="2.8" fill="#111"/>
<rect x="563.26" y="449.60" width="2.8" height="2.8" fill="#111"/>
<rect x="570.22" y="447.30" width="2.8" height="2.8" fill="#111"/>
<rect x="577.18" y="443.70" width="2.8" height="2.8" fill="#111"/>
<polygon points="659.40,468.30 666.36,467.30 673.32,466.30 680.28,465.30 680.28,471.30 673.32,471.63 666.36,471.97 659.40,472.30" fill="#c4c4c4" fill-opacity="0.8"/>
<polygon points="659.40,430.10 666.36,425.77 673.32,421.43 680.28,417.10 680.28,480.30 673.32,480.30 666.36,480.30 659.40,480.30" fill="#808080" fill-opacity="0.8"/>
<polygon points="659.40,471.30 666.36,470.97 673.32,470.63 680.28,470.30 680.28,500.80 673.32,500.80 666.36,500.80 659.40,500.80" fill="#454545" fill-opacity="0.8"/>
<polyline points="589.80,473.20 596.76,493.10 603.72,489.60 610.68,493.80 617.64,486.10 624.60,489.10 631.56,491.40 638.52,484.90 645.48,477.90 652.44,482.10 659.40,484.40 666.36,484.40 673.32,484.40 680.28,484.40" fill="none" stroke="#111" stroke-width="1.15"/>
<circle cx="589.80" cy="473.20" r="1.45" fill="#111"/>
<circle cx="596.76" cy="493.10" r="1.45" fill="#111"/>
<circle cx="603.72" cy="489.60" r="1.45" fill="#111"/>
<circle cx="610.68" cy="493.80" r="1.45" fill="#111"/>
<circle cx="617.64" cy="486.10" r="1.45" fill="#111"/>
<circle cx="624.60" cy="489.10" r="1.45" fill="#111"/>
<circle cx="631.56" cy="491.40" r="1.45" fill="#111"/>
<circle cx="638.52" cy="484.90" r="1.45" fill="#111"/>
<circle cx="645.48" cy="477.90" r="1.45" fill="#111"/>
<circle cx="652.44" cy="482.10" r="1.45" fill="#111"/>
<circle cx="659.40" cy="484.40" r="1.45" fill="#111"/>
<circle cx="666.36" cy="484.40" r="1.45" fill="#111"/>
<circle cx="673.32" cy="484.40" r="1.45" fill="#111"/>
<circle cx="680.28" cy="484.40" r="1.45" fill="#111"/>
<polyline points="589.80,473.20 596.76,488.40 603.72,488.40 610.68,493.80 617.64,486.10 624.60,484.90 631.56,473.20 638.52,476.00 645.48,441.60 652.44,468.10 659.40,460.30 666.36,457.30 673.32,454.50 680.28,451.70" fill="none" stroke="#111" stroke-width="1.15" stroke-dasharray="3.2,1.6"/>
<polygon points="589.80,471.25 591.55,474.25 588.05,474.25" fill="#111"/>
<polygon points="596.76,486.45 598.51,489.45 595.01,489.45" fill="#111"/>
<polygon points="603.72,486.45 605.47,489.45 601.97,489.45" fill="#111"/>
<polygon points="610.68,491.85 612.43,494.85 608.93,494.85" fill="#111"/>
<polygon points="617.64,484.15 619.39,487.15 615.89,487.15" fill="#111"/>
<polygon points="624.60,482.95 626.35,485.95 622.85,485.95" fill="#111"/>
<polygon points="631.56,471.25 633.31,474.25 629.81,474.25" fill="#111"/>
<polygon points="638.52,474.05 640.27,477.05 636.77,477.05" fill="#111"/>
<polygon points="645.48,439.65 647.23,442.65 643.73,442.65" fill="#111"/>
<polygon points="652.44,466.15 654.19,469.15 650.69,469.15" fill="#111"/>
<polygon points="659.40,458.35 661.15,461.35 657.65,461.35" fill="#111"/>
<polygon points="666.36,455.35 668.11,458.35 664.61,458.35" fill="#111"/>
<polygon points="673.32,452.55 675.07,455.55 671.57,455.55" fill="#111"/>
<polygon points="680.28,449.75 682.03,452.75 678.53,452.75" fill="#111"/>
<polyline points="589.80,473.20 596.76,487.70 603.72,487.20 610.68,494.30 617.64,487.70 624.60,488.40 631.56,484.40 638.52,487.20 645.48,478.40 652.44,487.20 659.40,487.20 666.36,487.20 673.32,487.70 680.28,488.40" fill="none" stroke="#111" stroke-width="1.15" stroke-dasharray="4.2,1.4"/>
<rect x="588.40" y="471.80" width="2.8" height="2.8" fill="#111"/>
<rect x="595.36" y="486.30" width="2.8" height="2.8" fill="#111"/>
<rect x="602.32" y="485.80" width="2.8" height="2.8" fill="#111"/>
<rect x="609.28" y="492.90" width="2.8" height="2.8" fill="#111"/>
<rect x="616.24" y="486.30" width="2.8" height="2.8" fill="#111"/>
<rect x="623.20" y="487.00" width="2.8" height="2.8" fill="#111"/>
<rect x="630.16" y="483.00" width="2.8" height="2.8" fill="#111"/>
<rect x="637.12" y="485.80" width="2.8" height="2.8" fill="#111"/>
<rect x="644.08" y="477.00" width="2.8" height="2.8" fill="#111"/>
<rect x="651.04" y="485.80" width="2.8" height="2.8" fill="#111"/>
<rect x="658.00" y="485.80" width="2.8" height="2.8" fill="#111"/>
<rect x="664.96" y="485.80" width="2.8" height="2.8" fill="#111"/>
<rect x="671.92" y="486.30" width="2.8" height="2.8" fill="#111"/>
<rect x="678.88" y="487.00" width="2.8" height="2.8" fill="#111"/>
<line x1="480.80" y1="374.70" x2="480.80" y2="508.30" stroke="#484848" stroke-width="1"/>
<line x1="582.30" y1="374.70" x2="582.30" y2="508.30" stroke="#484848" stroke-width="1"/>
<line x1="379.30" y1="381.60" x2="684.00" y2="381.60" stroke="#484848" stroke-width="1"/>
<rect x="379.30" y="374.70" width="304.70" height="133.60" fill="none" stroke="#9c9c9c" stroke-width="1.3"/>
<text x="430.05" y="380.30" font-size="4.9" text-anchor="middle">Pediatrics</text>
<text x="454.00" y="387.70" font-size="4.8" text-anchor="end">Actual</text>
<text x="456.40" y="505.70" font-size="4.8">Forecast</text>
<text x="531.55" y="380.30" font-size="4.9" text-anchor="middle">Transitional Adults</text>
<text x="555.90" y="387.70" font-size="4.8" text-anchor="end">Actual</text>
<text x="558.30" y="505.70" font-size="4.8">Forecast</text>
<text x="633.15" y="380.30" font-size="4.9" text-anchor="middle">Adults</text>
<text x="657.60" y="387.70" font-size="4.8" text-anchor="end">Actual</text>
<text x="660.00" y="505.70" font-size="4.8">Forecast</text>
<line x1="376.00" y1="385.30" x2="379.30" y2="385.30" stroke="#3a3a3a" stroke-width="0.9"/>
<text x="375.70" y="387.35" font-size="5.9" text-anchor="end">300%</text>
<line x1="376.00" y1="414.60" x2="379.30" y2="414.60" stroke="#3a3a3a" stroke-width="0.9"/>
<text x="375.70" y="416.65" font-size="5.9" text-anchor="end">200%</text>
<line x1="376.00" y1="443.80" x2="379.30" y2="443.80" stroke="#3a3a3a" stroke-width="0.9"/>
<text x="375.70" y="445.85" font-size="5.9" text-anchor="end">100%</text>
<line x1="376.00" y1="473.10" x2="379.30" y2="473.10" stroke="#3a3a3a" stroke-width="0.9"/>
<text x="375.70" y="475.15" font-size="5.9" text-anchor="end">0%</text>
<line x1="376.00" y1="502.40" x2="379.30" y2="502.40" stroke="#3a3a3a" stroke-width="0.9"/>
<text x="375.70" y="504.45" font-size="5.9" text-anchor="end">(100%)</text>
<line x1="386.20" y1="508.30" x2="386.20" y2="511.10" stroke="#3a3a3a" stroke-width="0.9"/>
<text x="386.20" y="516.85" font-size="4.75" text-anchor="middle">1999</text>
<line x1="400.12" y1="508.30" x2="400.12" y2="511.10" stroke="#3a3a3a" stroke-width="0.9"/>
<text x="400.12" y="516.85" font-size="4.75" text-anchor="middle">2001</text>
<line x1="414.04" y1="508.30" x2="414.04" y2="511.10" stroke="#3a3a3a" stroke-width="0.9"/>
<text x="414.04" y="516.85" font-size="4.75" text-anchor="middle">2003</text>
<line x1="427.96" y1="508.30" x2="427.96" y2="511.10" stroke="#3a3a3a" stroke-width="0.9"/>
<text x="427.96" y="516.85" font-size="4.75" text-anchor="middle">2005</text>
<line x1="441.88" y1="508.30" x2="441.88" y2="511.10" stroke="#3a3a3a" stroke-width="0.9"/>
<text x="441.88" y="516.85" font-size="4.75" text-anchor="middle">2007</text>
<line x1="455.80" y1="508.30" x2="455.80" y2="511.10" stroke="#3a3a3a" stroke-width="0.9"/>
<text x="455.80" y="516.85" font-size="4.75" text-anchor="middle">2009</text>
<line x1="469.72" y1="508.30" x2="469.72" y2="511.10" stroke="#3a3a3a" stroke-width="0.9"/>
<text x="469.72" y="516.85" font-size="4.75" text-anchor="middle">2011</text>
<line x1="488.10" y1="508.30" x2="488.10" y2="511.10" stroke="#3a3a3a" stroke-width="0.9"/>
<text x="488.10" y="516.85" font-size="4.75" text-anchor="middle">1999</text>
<line x1="502.02" y1="508.30" x2="502.02" y2="511.10" stroke="#3a3a3a" stroke-width="0.9"/>
<text x="502.02" y="516.85" font-size="4.75" text-anchor="middle">2001</text>
<line x1="515.94" y1="508.30" x2="515.94" y2="511.10" stroke="#3a3a3a" stroke-width="0.9"/>
<text x="515.94" y="516.85" font-size="4.75" text-anchor="middle">2003</text>
<line x1="529.86" y1="508.30" x2="529.86" y2="511.10" stroke="#3a3a3a" stroke-width="0.9"/>
<text x="529.86" y="516.85" font-size="4.75" text-anchor="middle">2005</text>
<line x1="543.78" y1="508.30" x2="543.78" y2="511.10" stroke="#3a3a3a" stroke-width="0.9"/>
<text x="543.78" y="516.85" font-size="4.75" text-anchor="middle">2007</text>
<line x1="557.70" y1="508.30" x2="557.70" y2="511.10" stroke="#3a3a3a" stroke-width="0.9"/>
<text x="557.70" y="516.85" font-size="4.75" text-anchor="middle">2009</text>
<line x1="571.62" y1="508.30" x2="571.62" y2="511.10" stroke="#3a3a3a" stroke-width="0.9"/>
<text x="571.62" y="516.85" font-size="4.75" text-anchor="middle">2011</text>
<line x1="589.80" y1="508.30" x2="589.80" y2="511.10" stroke="#3a3a3a" stroke-width="0.9"/>
<text x="589.80" y="516.85" font-size="4.75" text-anchor="middle">1999</text>
<line x1="603.72" y1="508.30" x2="603.72" y2="511.10" stroke="#3a3a3a" stroke-width="0.9"/>
<text x="603.72" y="516.85" font-size="4.75" text-anchor="middle">2001</text>
<line x1="617.64" y1="508.30" x2="617.64" y2="511.10" stroke="#3a3a3a" stroke-width="0.9"/>
<text x="617.64" y="516.85" font-size="4.75" text-anchor="middle">2003</text>
<line x1="631.56" y1="508.30" x2="631.56" y2="511.10" stroke="#3a3a3a" stroke-width="0.9"/>
<text x="631.56" y="516.85" font-size="4.75" text-anchor="middle">2005</text>
<line x1="645.48" y1="508.30" x2="645.48" y2="511.10" stroke="#3a3a3a" stroke-width="0.9"/>
<text x="645.48" y="516.85" font-size="4.75" text-anchor="middle">2007</text>
<line x1="659.40" y1="508.30" x2="659.40" y2="511.10" stroke="#3a3a3a" stroke-width="0.9"/>
<text x="659.40" y="516.85" font-size="4.75" text-anchor="middle">2009</text>
<line x1="673.32" y1="508.30" x2="673.32" y2="511.10" stroke="#3a3a3a" stroke-width="0.9"/>
<text x="673.32" y="516.85" font-size="4.75" text-anchor="middle">2011</text>
<text x="531.65" y="525.70" font-size="5.0" text-anchor="middle">Year</text>
<text transform="translate(353.20,443.60) rotate(-90)" font-size="6.8" text-anchor="middle">Percent growth from 1999</text>
<text x="348.50" y="379.80" font-size="18" font-weight="bold">f</text>
<rect x="415.30" y="529.30" width="200.90" height="12.30" fill="none" stroke="#8a8a8a" stroke-width="0.9"/>
<line x1="417.97" y1="532.50" x2="436.44" y2="532.50" stroke="#111" stroke-width="1.1"/>
<circle cx="427.15" cy="532.50" r="1.6" fill="#111"/>
<rect x="425.16" y="536.60" width="3.4" height="3.4" fill="#d0d0d0" stroke="#6a6a6a" stroke-width="0.7"/>
<text x="439.50" y="534.35" font-size="4.99">Discharges</text>
<text x="439.50" y="540.30" font-size="4.99">Discharges 95% CI</text>
<line x1="485.23" y1="532.50" x2="489.77" y2="532.50" stroke="#111" stroke-width="1.1"/>
<line x1="497.87" y1="532.50" x2="501.92" y2="532.50" stroke="#111" stroke-width="1.1"/>
<polygon points="494.12,530.40 496.02,533.70 492.22,533.70" fill="#111"/>
<rect x="492.52" y="536.70" width="3.2" height="3.2" fill="#999999" stroke="#6a6a6a" stroke-width="0.6"/>
<text x="506.96" y="534.35" font-size="4.99">Charges</text>
<text x="506.96" y="540.30" font-size="4.99">Charges 95% CI</text>
<line x1="546.57" y1="532.50" x2="552.10" y2="532.50" stroke="#111" stroke-width="1.1"/>
<line x1="558.62" y1="532.50" x2="563.85" y2="532.50" stroke="#111" stroke-width="1.1"/>
<rect x="553.56" y="530.80" width="3.4" height="3.4" fill="#111"/>
<rect x="553.66" y="536.70" width="3.2" height="3.2" fill="#666666" stroke="#555" stroke-width="0.6"/>
<text x="566.12" y="534.35" font-size="4.99">Inpatient days</text>
<text x="566.12" y="540.30" font-size="4.99">Inpatient days 95% CI</text>
</svg>
</body></html>
